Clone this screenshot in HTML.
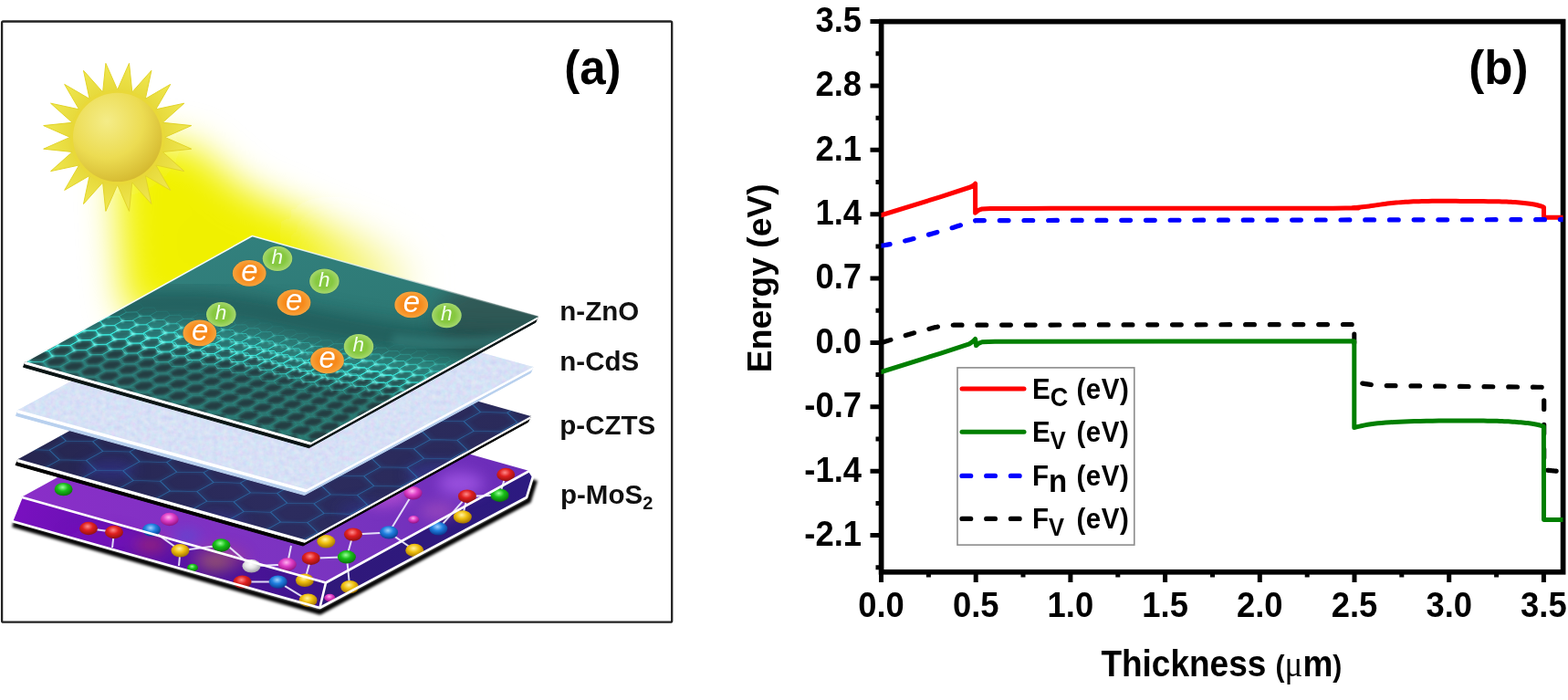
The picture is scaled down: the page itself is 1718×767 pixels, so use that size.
<!DOCTYPE html>
<html><head><meta charset="utf-8"><title>Figure</title><style>
html,body{margin:0;padding:0;background:#fff;}
svg{display:block;}
text{font-family:"Liberation Sans", Arial, sans-serif;font-weight:bold;fill:#000;}
.tk{font-size:36.4px;}
.ax{font-size:37px;}
.ax2{font-size:37.2px;}
.lab{font-size:51px;}
.lg{font-size:29.5px;}
.sub{font-size:26.5px;font-weight:bold;}
.ly2{font-size:20px;font-weight:bold;}
.pr{font-size:30px;}
.mu2{font-family:"Liberation Serif",serif;font-weight:normal;}
.ly{font-size:29.5px;fill:#111;}
.mu{font-weight:normal;}
.ee{font-size:33px;font-weight:normal;font-style:italic;fill:#fff;text-anchor:middle;}
.hh{font-size:22.5px;font-weight:normal;font-style:italic;fill:#f4fff0;text-anchor:middle;}
</style></head>
<body><svg width="1718" height="767" viewBox="0 0 1718 767">
<defs>
<filter id="blurBeam" x="-50%" y="-50%" width="200%" height="200%"><feGaussianBlur stdDeviation="20"/></filter>
<filter id="blur1" x="-5%" y="-5%" width="110%" height="110%"><feGaussianBlur stdDeviation="0.9"/></filter>
<filter id="blur15" x="-5%" y="-5%" width="110%" height="110%"><feGaussianBlur stdDeviation="1.8"/></filter>
<filter id="blur2"><feGaussianBlur stdDeviation="2"/></filter>
<filter id="blur4" x="-20%" y="-50%" width="140%" height="200%"><feGaussianBlur stdDeviation="4"/></filter>
<filter id="blur8" x="-50%" y="-50%" width="200%" height="200%"><feGaussianBlur stdDeviation="8"/></filter>
<filter id="blur10" x="-50%" y="-50%" width="200%" height="200%"><feGaussianBlur stdDeviation="10"/></filter>
<filter id="noise" x="0" y="0" width="100%" height="100%">
  <feTurbulence type="fractalNoise" baseFrequency="0.18" numOctaves="3" seed="3" result="n"/>
  <feColorMatrix in="n" type="matrix" values="0.55 0 0 0 0.45  0 0.5 0 0 0.52  0 0 0.2 0 0.82  0 0 0 0 1" result="c"/>
  <feComposite in="c" in2="SourceGraphic" operator="in"/>
</filter>
<radialGradient id="beamG" gradientUnits="userSpaceOnUse" cx="225" cy="265" r="230">
  <stop offset="0" stop-color="#f0f000"/><stop offset="0.42" stop-color="#f2f200"/><stop offset="0.75" stop-color="#f6f480"/><stop offset="1" stop-color="#fbfbd0"/>
</radialGradient>
<linearGradient id="edgeG" gradientUnits="userSpaceOnUse" x1="275" y1="256" x2="590" y2="347">
  <stop offset="0" stop-color="#f4fbfa"/><stop offset="0.5" stop-color="#e0f0ee" stop-opacity="0.8"/><stop offset="1" stop-color="#3a5a58" stop-opacity="0.6"/>
</linearGradient>
<radialGradient id="sunG" cx="0.38" cy="0.32" r="0.75">
  <stop offset="0" stop-color="#f4ec88"/><stop offset="0.55" stop-color="#ecdc52"/><stop offset="1" stop-color="#d2b52c"/>
</radialGradient>
<radialGradient id="rayG" cx="0.5" cy="0.5" r="0.5">
  <stop offset="0.6" stop-color="#e6d83a"/><stop offset="1" stop-color="#f0e850"/>
</radialGradient>
<linearGradient id="znoG" gradientUnits="userSpaceOnUse" x1="275" y1="256" x2="341" y2="484">
  <stop offset="0" stop-color="#32807d"/><stop offset="0.5" stop-color="#2e7a76"/><stop offset="1" stop-color="#2c7a72"/>
</linearGradient>
<linearGradient id="hexFill" x1="0" y1="0" x2="0" y2="1"><stop offset="0" stop-color="#154848"/><stop offset="1" stop-color="#123c3c"/></linearGradient>
<linearGradient id="znoMaskG" x1="0" y1="0" x2="0" y2="1">
  <stop offset="0.35" stop-color="#000"/><stop offset="0.6" stop-color="#fff" stop-opacity="0.9"/><stop offset="1" stop-color="#fff"/>
</linearGradient>
<mask id="znoMask" maskUnits="userSpaceOnUse" x="-10" y="-10" width="120" height="120"><rect x="-10" y="-10" width="120" height="120" fill="url(#znoMaskG)"/></mask>
<linearGradient id="cztsG" gradientUnits="userSpaceOnUse" x1="20" y1="503" x2="581" y2="456">
  <stop offset="0" stop-color="#262650"/><stop offset="0.5" stop-color="#2c2c5e"/><stop offset="1" stop-color="#2a2a5a"/>
</linearGradient>
<linearGradient id="moTop" gradientUnits="userSpaceOnUse" x1="23" y1="545" x2="580" y2="516">
  <stop offset="0" stop-color="#8a2ec8"/><stop offset="0.6" stop-color="#7a34c0"/><stop offset="1" stop-color="#6a2cb8"/>
</linearGradient>
<linearGradient id="moFL" gradientUnits="userSpaceOnUse" x1="13" y1="560" x2="357" y2="650">
  <stop offset="0" stop-color="#7a10c0"/><stop offset="0.5" stop-color="#5a12a8"/><stop offset="1" stop-color="#3a1488"/>
</linearGradient>
<linearGradient id="moFR" gradientUnits="userSpaceOnUse" x1="357" y1="650" x2="580" y2="530">
  <stop offset="0" stop-color="#30187a"/><stop offset="1" stop-color="#2c1a80"/>
</linearGradient>
<clipPath id="plotClip"><rect x="965.5" y="23.6" width="747" height="603.2"/></clipPath>
<clipPath id="moClip"><polygon points="23.5,544.8 246.5,422.3 580.0,516.0 584.0,522.0 577.0,545.0 350.4,666.0 13.0,571.0"/></clipPath>
<clipPath id="cztsClip"><polygon points="20.0,503.0 266.6,367.5 581.6,456.0 335.0,591.5"/></clipPath>
<clipPath id="znoClip"><polygon points="28.0,396.0 276.4,258.5 589.4,347.0 341.0,484.5"/></clipPath>
<radialGradient id="eG" cx="0.5" cy="0.5" r="0.5"><stop offset="0.55" stop-color="#f7891a"/><stop offset="1" stop-color="#f6a43e"/></radialGradient>
<radialGradient id="hG" cx="0.5" cy="0.5" r="0.5"><stop offset="0.55" stop-color="#86c840"/><stop offset="1" stop-color="#a6d870"/></radialGradient>
<radialGradient id="ball_r" cx="0.45" cy="0.35" r="0.65"><stop offset="0" stop-color="#ff8a8a"/><stop offset="0.45" stop-color="#e02020"/><stop offset="1" stop-color="#901010"/></radialGradient>
<radialGradient id="ball_g" cx="0.45" cy="0.35" r="0.65"><stop offset="0" stop-color="#9aff9a"/><stop offset="0.45" stop-color="#18c018"/><stop offset="1" stop-color="#0a700a"/></radialGradient>
<radialGradient id="ball_b" cx="0.45" cy="0.35" r="0.65"><stop offset="0" stop-color="#a0d0ff"/><stop offset="0.45" stop-color="#2080e0"/><stop offset="1" stop-color="#0a3a90"/></radialGradient>
<radialGradient id="ball_y" cx="0.45" cy="0.35" r="0.65"><stop offset="0" stop-color="#fff2a0"/><stop offset="0.45" stop-color="#f0c010"/><stop offset="1" stop-color="#a07000"/></radialGradient>
<radialGradient id="ball_m" cx="0.45" cy="0.35" r="0.65"><stop offset="0" stop-color="#ffb0f0"/><stop offset="0.45" stop-color="#e040c8"/><stop offset="1" stop-color="#901080"/></radialGradient>
<radialGradient id="ball_w" cx="0.45" cy="0.35" r="0.65"><stop offset="0" stop-color="#ffffff"/><stop offset="0.45" stop-color="#e8e8e8"/><stop offset="1" stop-color="#a0a0a8"/></radialGradient>
</defs>
<rect width="1718" height="767" fill="#fff"/>
<rect x="2.1" y="23.5" width="734.1" height="658.2" rx="1.5" fill="#fff" stroke="#222" stroke-width="2.3"/>
<polygon points="132,150 212,160 268,208 340,240 420,272 458,302 432,338 240,348 138,345 132,282 128,210" fill="url(#beamG)" filter="url(#blurBeam)"/>
<polygon points="141.5,69.4 144.8,100.9 165.9,77.3 159.3,108.3 186.7,92.4 170.8,119.8 201.8,113.2 178.2,134.3 209.7,137.6 180.7,150.4 209.7,163.2 178.2,166.5 201.8,187.6 170.8,181.0 186.7,208.4 159.3,192.5 165.9,223.5 144.8,199.9 141.5,231.4 128.7,202.4 115.9,231.4 112.6,199.9 91.5,223.5 98.1,192.5 70.7,208.4 86.6,181.0 55.6,187.6 79.2,166.5 47.7,163.2 76.7,150.4 47.7,137.6 79.2,134.3 55.6,113.2 86.6,119.8 70.7,92.4 98.1,108.3 91.5,77.3 112.6,100.9 115.9,69.4 128.7,98.4" fill="url(#rayG)" stroke="#e2d42a" stroke-width="1" stroke-linejoin="round"/>
<circle cx="128.7" cy="150.4" r="52" fill="#e9d838" opacity="0.9"/>
<circle cx="128.7" cy="150.4" r="48.7" fill="url(#sunG)"/>
<polyline points="14.0,574.5 350.4,670.5 579.0,548.5 586.0,526.0" fill="none" stroke="#000" stroke-width="6" stroke-linejoin="round" filter="url(#blur15)"/>
<polygon points="23.5,544.8 246.5,422.3 580.0,516.0 357.0,638.5" fill="url(#moTop)"/>
<polygon points="23.5,544.8 357.0,638.5 350.4,666.0 13.0,571.0" fill="url(#moFL)"/>
<polygon points="357.0,638.5 580.0,516.0 584.0,522.0 577.0,545.0 350.4,666.0" fill="url(#moFR)"/>
<g clip-path="url(#moClip)" filter="url(#blur8)" opacity="0.55"><ellipse cx="420" cy="540" rx="30" ry="14" fill="#e060e0"/><ellipse cx="505" cy="530" rx="25" ry="12" fill="#c070ff"/><ellipse cx="240" cy="612" rx="30" ry="12" fill="#b04080"/><ellipse cx="110" cy="590" rx="40" ry="10" fill="#8010c0"/><ellipse cx="165" cy="597" rx="18" ry="8" fill="#d03050"/><ellipse cx="236" cy="617" rx="16" ry="8" fill="#d09030"/><ellipse cx="205" cy="588" rx="14" ry="7" fill="#4060e0"/><ellipse cx="480" cy="560" rx="20" ry="8" fill="#c060c0"/></g>
<g stroke="#f0f0ff" stroke-width="2" opacity="0.9"><line x1="265.5" y1="637.6" x2="304.7" y2="637.6"/><line x1="304.7" y1="637.6" x2="337.6" y2="657.7"/><line x1="333.9" y1="635.8" x2="340.7" y2="611.7"/><line x1="340.7" y1="611.7" x2="379.9" y2="610.3"/><line x1="379.9" y1="610.3" x2="386.9" y2="585.6"/><line x1="386.9" y1="585.6" x2="426.1" y2="583.4"/><line x1="314.8" y1="618.5" x2="275.5" y2="620.3"/><line x1="314.8" y1="618.5" x2="319" y2="598"/><line x1="275.5" y1="620.3" x2="250" y2="598.4"/><line x1="426.1" y1="583.4" x2="454.2" y2="603"/><line x1="426.1" y1="583.4" x2="452.5" y2="540.3"/><line x1="480.3" y1="579.3" x2="511.9" y2="543.7"/><line x1="511.9" y1="543.7" x2="547.5" y2="542.7"/><line x1="547.5" y1="542.7" x2="554.2" y2="520"/><line x1="125" y1="583" x2="97" y2="579"/><line x1="125" y1="583" x2="123" y2="600"/><line x1="166" y1="580.6" x2="197.5" y2="603.3"/><line x1="197.5" y1="603.3" x2="242.4" y2="597.5"/><line x1="197.5" y1="603.3" x2="196" y2="620"/><line x1="379.9" y1="610.3" x2="383.2" y2="643.1"/><line x1="506.8" y1="566.4" x2="511.9" y2="543.7"/></g>
<ellipse cx="69.6" cy="536.1" rx="10" ry="7.2" fill="url(#ball_g)"/>
<ellipse cx="97" cy="579" rx="10" ry="7.2" fill="url(#ball_r)"/>
<ellipse cx="125" cy="583" rx="10" ry="7.2" fill="url(#ball_r)"/>
<ellipse cx="166" cy="580.6" rx="10" ry="7.2" fill="url(#ball_b)"/>
<ellipse cx="185.7" cy="569" rx="10" ry="7.2" fill="url(#ball_m)"/>
<ellipse cx="197.5" cy="603.3" rx="10" ry="7.2" fill="url(#ball_y)"/>
<ellipse cx="242.4" cy="597.5" rx="10" ry="7.2" fill="url(#ball_g)"/>
<ellipse cx="211" cy="622" rx="6" ry="4.3" fill="url(#ball_g)"/>
<ellipse cx="275.5" cy="620.3" rx="10" ry="7.2" fill="url(#ball_w)"/>
<ellipse cx="314.8" cy="618.5" rx="10" ry="7.2" fill="url(#ball_m)"/>
<ellipse cx="340.7" cy="611.7" rx="10" ry="7.2" fill="url(#ball_r)"/>
<ellipse cx="379.9" cy="610.3" rx="10" ry="7.2" fill="url(#ball_g)"/>
<ellipse cx="386.9" cy="585.6" rx="10" ry="7.2" fill="url(#ball_r)"/>
<ellipse cx="357.3" cy="593.3" rx="10" ry="7.2" fill="url(#ball_y)"/>
<ellipse cx="265.5" cy="637.6" rx="10" ry="7.2" fill="url(#ball_r)"/>
<ellipse cx="304.7" cy="637.6" rx="10" ry="7.2" fill="url(#ball_b)"/>
<ellipse cx="333.9" cy="635.8" rx="10" ry="7.2" fill="url(#ball_y)"/>
<ellipse cx="337.6" cy="657.7" rx="10" ry="7.2" fill="url(#ball_y)"/>
<ellipse cx="361.3" cy="655" rx="6" ry="4.3" fill="url(#ball_m)"/>
<ellipse cx="383.2" cy="643.1" rx="10" ry="7.2" fill="url(#ball_y)"/>
<ellipse cx="426.1" cy="583.4" rx="10" ry="7.2" fill="url(#ball_b)"/>
<ellipse cx="554.2" cy="520" rx="10" ry="7.2" fill="url(#ball_r)"/>
<ellipse cx="511.9" cy="543.7" rx="10" ry="7.2" fill="url(#ball_r)"/>
<ellipse cx="547.5" cy="542.7" rx="10" ry="7.2" fill="url(#ball_g)"/>
<ellipse cx="506.8" cy="566.4" rx="10" ry="7.2" fill="url(#ball_y)"/>
<ellipse cx="480.3" cy="579.3" rx="10" ry="7.2" fill="url(#ball_b)"/>
<ellipse cx="452.5" cy="540.3" rx="10" ry="7.2" fill="url(#ball_m)"/>
<ellipse cx="453.2" cy="569.2" rx="6" ry="4.3" fill="url(#ball_m)"/>
<ellipse cx="454.2" cy="603" rx="10" ry="7.2" fill="url(#ball_y)"/>
<polyline points="23.5,544.8 357.0,638.5 580.0,516.0" fill="none" stroke="#fff" stroke-width="2.6" stroke-linejoin="round"/>
<polyline points="13.0,571.0 350.4,666.0 577.0,545.0 584.0,522.0 580.0,516.0" fill="none" stroke="#fff" stroke-width="2.6" stroke-linejoin="round"/>
<line x1="23.5" y1="544.8" x2="13" y2="571" stroke="#fff" stroke-width="2.6"/>
<line x1="357" y1="638.5" x2="350.4" y2="666" stroke="#fff" stroke-width="2.6"/>
<polygon points="20.0,503.0 335.0,591.5 581.6,456.0 578.6,462.5 332.0,598.0 17.0,509.5" fill="#000" stroke="#000" stroke-width="1" stroke-linejoin="round"/>
<polygon points="20.0,503.0 335.0,591.5 581.6,456.0 580.4,458.8 333.8,594.3 18.8,505.8" fill="#fff" stroke="#fff" stroke-width="1" stroke-linejoin="round"/>
<polygon points="20.0,503.0 266.6,367.5 581.6,456.0 335.0,591.5" fill="url(#cztsG)"/>
<g clip-path="url(#cztsClip)"><g filter="url(#blur8)" opacity="0.55"><ellipse cx="230" cy="575" rx="40" ry="12" fill="#3a3aa0"/><ellipse cx="120" cy="515" rx="30" ry="10" fill="#34349a"/><ellipse cx="480" cy="520" rx="35" ry="12" fill="#3a3aa8"/><ellipse cx="400" cy="560" rx="30" ry="10" fill="#303090"/></g><g transform="matrix(3.1500,0.8850,-2.4660,1.3550,266.60,367.50)"><path d="M3.4,1.7 L-3.0,5.4 L-9.4,1.7 L-9.4,-5.7 L-3.0,-9.4 L3.4,-5.7ZM16.2,1.7 L9.8,5.4 L3.4,1.7 L3.4,-5.7 L9.8,-9.4 L16.2,-5.7ZM29.0,1.7 L22.6,5.4 L16.2,1.7 L16.2,-5.7 L22.6,-9.4 L29.0,-5.7ZM41.9,1.7 L35.5,5.4 L29.0,1.7 L29.0,-5.7 L35.5,-9.4 L41.9,-5.7ZM54.7,1.7 L48.3,5.4 L41.9,1.7 L41.9,-5.7 L48.3,-9.4 L54.7,-5.7ZM67.5,1.7 L61.1,5.4 L54.7,1.7 L54.7,-5.7 L61.1,-9.4 L67.5,-5.7ZM80.3,1.7 L73.9,5.4 L67.5,1.7 L67.5,-5.7 L73.9,-9.4 L80.3,-5.7ZM93.1,1.7 L86.7,5.4 L80.3,1.7 L80.3,-5.7 L86.7,-9.4 L93.1,-5.7ZM105.9,1.7 L99.5,5.4 L93.1,1.7 L93.1,-5.7 L99.5,-9.4 L105.9,-5.7ZM9.8,12.8 L3.4,16.5 L-3.0,12.8 L-3.0,5.4 L3.4,1.7 L9.8,5.4ZM22.6,12.8 L16.2,16.5 L9.8,12.8 L9.8,5.4 L16.2,1.7 L22.6,5.4ZM35.5,12.8 L29.0,16.5 L22.6,12.8 L22.6,5.4 L29.0,1.7 L35.5,5.4ZM48.3,12.8 L41.9,16.5 L35.5,12.8 L35.5,5.4 L41.9,1.7 L48.3,5.4ZM61.1,12.8 L54.7,16.5 L48.3,12.8 L48.3,5.4 L54.7,1.7 L61.1,5.4ZM73.9,12.8 L67.5,16.5 L61.1,12.8 L61.1,5.4 L67.5,1.7 L73.9,5.4ZM86.7,12.8 L80.3,16.5 L73.9,12.8 L73.9,5.4 L80.3,1.7 L86.7,5.4ZM99.5,12.8 L93.1,16.5 L86.7,12.8 L86.7,5.4 L93.1,1.7 L99.5,5.4ZM112.4,12.8 L105.9,16.5 L99.5,12.8 L99.5,5.4 L105.9,1.7 L112.4,5.4ZM3.4,23.9 L-3.0,27.6 L-9.4,23.9 L-9.4,16.5 L-3.0,12.8 L3.4,16.5ZM16.2,23.9 L9.8,27.6 L3.4,23.9 L3.4,16.5 L9.8,12.8 L16.2,16.5ZM29.0,23.9 L22.6,27.6 L16.2,23.9 L16.2,16.5 L22.6,12.8 L29.0,16.5ZM41.9,23.9 L35.5,27.6 L29.0,23.9 L29.0,16.5 L35.5,12.8 L41.9,16.5ZM54.7,23.9 L48.3,27.6 L41.9,23.9 L41.9,16.5 L48.3,12.8 L54.7,16.5ZM67.5,23.9 L61.1,27.6 L54.7,23.9 L54.7,16.5 L61.1,12.8 L67.5,16.5ZM80.3,23.9 L73.9,27.6 L67.5,23.9 L67.5,16.5 L73.9,12.8 L80.3,16.5ZM93.1,23.9 L86.7,27.6 L80.3,23.9 L80.3,16.5 L86.7,12.8 L93.1,16.5ZM105.9,23.9 L99.5,27.6 L93.1,23.9 L93.1,16.5 L99.5,12.8 L105.9,16.5ZM9.8,35.0 L3.4,38.7 L-3.0,35.0 L-3.0,27.6 L3.4,23.9 L9.8,27.6ZM22.6,35.0 L16.2,38.7 L9.8,35.0 L9.8,27.6 L16.2,23.9 L22.6,27.6ZM35.5,35.0 L29.0,38.7 L22.6,35.0 L22.6,27.6 L29.0,23.9 L35.5,27.6ZM48.3,35.0 L41.9,38.7 L35.5,35.0 L35.5,27.6 L41.9,23.9 L48.3,27.6ZM61.1,35.0 L54.7,38.7 L48.3,35.0 L48.3,27.6 L54.7,23.9 L61.1,27.6ZM73.9,35.0 L67.5,38.7 L61.1,35.0 L61.1,27.6 L67.5,23.9 L73.9,27.6ZM86.7,35.0 L80.3,38.7 L73.9,35.0 L73.9,27.6 L80.3,23.9 L86.7,27.6ZM99.5,35.0 L93.1,38.7 L86.7,35.0 L86.7,27.6 L93.1,23.9 L99.5,27.6ZM112.4,35.0 L105.9,38.7 L99.5,35.0 L99.5,27.6 L105.9,23.9 L112.4,27.6ZM3.4,46.1 L-3.0,49.8 L-9.4,46.1 L-9.4,38.7 L-3.0,35.0 L3.4,38.7ZM16.2,46.1 L9.8,49.8 L3.4,46.1 L3.4,38.7 L9.8,35.0 L16.2,38.7ZM29.0,46.1 L22.6,49.8 L16.2,46.1 L16.2,38.7 L22.6,35.0 L29.0,38.7ZM41.9,46.1 L35.5,49.8 L29.0,46.1 L29.0,38.7 L35.5,35.0 L41.9,38.7ZM54.7,46.1 L48.3,49.8 L41.9,46.1 L41.9,38.7 L48.3,35.0 L54.7,38.7ZM67.5,46.1 L61.1,49.8 L54.7,46.1 L54.7,38.7 L61.1,35.0 L67.5,38.7ZM80.3,46.1 L73.9,49.8 L67.5,46.1 L67.5,38.7 L73.9,35.0 L80.3,38.7ZM93.1,46.1 L86.7,49.8 L80.3,46.1 L80.3,38.7 L86.7,35.0 L93.1,38.7ZM105.9,46.1 L99.5,49.8 L93.1,46.1 L93.1,38.7 L99.5,35.0 L105.9,38.7ZM9.8,57.2 L3.4,60.9 L-3.0,57.2 L-3.0,49.8 L3.4,46.1 L9.8,49.8ZM22.6,57.2 L16.2,60.9 L9.8,57.2 L9.8,49.8 L16.2,46.1 L22.6,49.8ZM35.5,57.2 L29.0,60.9 L22.6,57.2 L22.6,49.8 L29.0,46.1 L35.5,49.8ZM48.3,57.2 L41.9,60.9 L35.5,57.2 L35.5,49.8 L41.9,46.1 L48.3,49.8ZM61.1,57.2 L54.7,60.9 L48.3,57.2 L48.3,49.8 L54.7,46.1 L61.1,49.8ZM73.9,57.2 L67.5,60.9 L61.1,57.2 L61.1,49.8 L67.5,46.1 L73.9,49.8ZM86.7,57.2 L80.3,60.9 L73.9,57.2 L73.9,49.8 L80.3,46.1 L86.7,49.8ZM99.5,57.2 L93.1,60.9 L86.7,57.2 L86.7,49.8 L93.1,46.1 L99.5,49.8ZM112.4,57.2 L105.9,60.9 L99.5,57.2 L99.5,49.8 L105.9,46.1 L112.4,49.8ZM3.4,68.3 L-3.0,72.0 L-9.4,68.3 L-9.4,60.9 L-3.0,57.2 L3.4,60.9ZM16.2,68.3 L9.8,72.0 L3.4,68.3 L3.4,60.9 L9.8,57.2 L16.2,60.9ZM29.0,68.3 L22.6,72.0 L16.2,68.3 L16.2,60.9 L22.6,57.2 L29.0,60.9ZM41.9,68.3 L35.5,72.0 L29.0,68.3 L29.0,60.9 L35.5,57.2 L41.9,60.9ZM54.7,68.3 L48.3,72.0 L41.9,68.3 L41.9,60.9 L48.3,57.2 L54.7,60.9ZM67.5,68.3 L61.1,72.0 L54.7,68.3 L54.7,60.9 L61.1,57.2 L67.5,60.9ZM80.3,68.3 L73.9,72.0 L67.5,68.3 L67.5,60.9 L73.9,57.2 L80.3,60.9ZM93.1,68.3 L86.7,72.0 L80.3,68.3 L80.3,60.9 L86.7,57.2 L93.1,60.9ZM105.9,68.3 L99.5,72.0 L93.1,68.3 L93.1,60.9 L99.5,57.2 L105.9,60.9ZM9.8,79.4 L3.4,83.1 L-3.0,79.4 L-3.0,72.0 L3.4,68.3 L9.8,72.0ZM22.6,79.4 L16.2,83.1 L9.8,79.4 L9.8,72.0 L16.2,68.3 L22.6,72.0ZM35.5,79.4 L29.0,83.1 L22.6,79.4 L22.6,72.0 L29.0,68.3 L35.5,72.0ZM48.3,79.4 L41.9,83.1 L35.5,79.4 L35.5,72.0 L41.9,68.3 L48.3,72.0ZM61.1,79.4 L54.7,83.1 L48.3,79.4 L48.3,72.0 L54.7,68.3 L61.1,72.0ZM73.9,79.4 L67.5,83.1 L61.1,79.4 L61.1,72.0 L67.5,68.3 L73.9,72.0ZM86.7,79.4 L80.3,83.1 L73.9,79.4 L73.9,72.0 L80.3,68.3 L86.7,72.0ZM99.5,79.4 L93.1,83.1 L86.7,79.4 L86.7,72.0 L93.1,68.3 L99.5,72.0ZM112.4,79.4 L105.9,83.1 L99.5,79.4 L99.5,72.0 L105.9,68.3 L112.4,72.0ZM3.4,90.5 L-3.0,94.2 L-9.4,90.5 L-9.4,83.1 L-3.0,79.4 L3.4,83.1ZM16.2,90.5 L9.8,94.2 L3.4,90.5 L3.4,83.1 L9.8,79.4 L16.2,83.1ZM29.0,90.5 L22.6,94.2 L16.2,90.5 L16.2,83.1 L22.6,79.4 L29.0,83.1ZM41.9,90.5 L35.5,94.2 L29.0,90.5 L29.0,83.1 L35.5,79.4 L41.9,83.1ZM54.7,90.5 L48.3,94.2 L41.9,90.5 L41.9,83.1 L48.3,79.4 L54.7,83.1ZM67.5,90.5 L61.1,94.2 L54.7,90.5 L54.7,83.1 L61.1,79.4 L67.5,83.1ZM80.3,90.5 L73.9,94.2 L67.5,90.5 L67.5,83.1 L73.9,79.4 L80.3,83.1ZM93.1,90.5 L86.7,94.2 L80.3,90.5 L80.3,83.1 L86.7,79.4 L93.1,83.1ZM105.9,90.5 L99.5,94.2 L93.1,90.5 L93.1,83.1 L99.5,79.4 L105.9,83.1ZM9.8,101.6 L3.4,105.3 L-3.0,101.6 L-3.0,94.2 L3.4,90.5 L9.8,94.2ZM22.6,101.6 L16.2,105.3 L9.8,101.6 L9.8,94.2 L16.2,90.5 L22.6,94.2ZM35.5,101.6 L29.0,105.3 L22.6,101.6 L22.6,94.2 L29.0,90.5 L35.5,94.2ZM48.3,101.6 L41.9,105.3 L35.5,101.6 L35.5,94.2 L41.9,90.5 L48.3,94.2ZM61.1,101.6 L54.7,105.3 L48.3,101.6 L48.3,94.2 L54.7,90.5 L61.1,94.2ZM73.9,101.6 L67.5,105.3 L61.1,101.6 L61.1,94.2 L67.5,90.5 L73.9,94.2ZM86.7,101.6 L80.3,105.3 L73.9,101.6 L73.9,94.2 L80.3,90.5 L86.7,94.2ZM99.5,101.6 L93.1,105.3 L86.7,101.6 L86.7,94.2 L93.1,90.5 L99.5,94.2ZM112.4,101.6 L105.9,105.3 L99.5,101.6 L99.5,94.2 L105.9,90.5 L112.4,94.2ZM3.4,112.7 L-3.0,116.4 L-9.4,112.7 L-9.4,105.3 L-3.0,101.6 L3.4,105.3ZM16.2,112.7 L9.8,116.4 L3.4,112.7 L3.4,105.3 L9.8,101.6 L16.2,105.3ZM29.0,112.7 L22.6,116.4 L16.2,112.7 L16.2,105.3 L22.6,101.6 L29.0,105.3ZM41.9,112.7 L35.5,116.4 L29.0,112.7 L29.0,105.3 L35.5,101.6 L41.9,105.3ZM54.7,112.7 L48.3,116.4 L41.9,112.7 L41.9,105.3 L48.3,101.6 L54.7,105.3ZM67.5,112.7 L61.1,116.4 L54.7,112.7 L54.7,105.3 L61.1,101.6 L67.5,105.3ZM80.3,112.7 L73.9,116.4 L67.5,112.7 L67.5,105.3 L73.9,101.6 L80.3,105.3ZM93.1,112.7 L86.7,116.4 L80.3,112.7 L80.3,105.3 L86.7,101.6 L93.1,105.3ZM105.9,112.7 L99.5,116.4 L93.1,112.7 L93.1,105.3 L99.5,101.6 L105.9,105.3Z" fill="none" stroke="#2a90d0" stroke-width="1.4" opacity="0.18" filter="url(#blur1)"/><path d="M3.4,1.7 L-3.0,5.4 L-9.4,1.7 L-9.4,-5.7 L-3.0,-9.4 L3.4,-5.7ZM16.2,1.7 L9.8,5.4 L3.4,1.7 L3.4,-5.7 L9.8,-9.4 L16.2,-5.7ZM29.0,1.7 L22.6,5.4 L16.2,1.7 L16.2,-5.7 L22.6,-9.4 L29.0,-5.7ZM41.9,1.7 L35.5,5.4 L29.0,1.7 L29.0,-5.7 L35.5,-9.4 L41.9,-5.7ZM54.7,1.7 L48.3,5.4 L41.9,1.7 L41.9,-5.7 L48.3,-9.4 L54.7,-5.7ZM67.5,1.7 L61.1,5.4 L54.7,1.7 L54.7,-5.7 L61.1,-9.4 L67.5,-5.7ZM80.3,1.7 L73.9,5.4 L67.5,1.7 L67.5,-5.7 L73.9,-9.4 L80.3,-5.7ZM93.1,1.7 L86.7,5.4 L80.3,1.7 L80.3,-5.7 L86.7,-9.4 L93.1,-5.7ZM105.9,1.7 L99.5,5.4 L93.1,1.7 L93.1,-5.7 L99.5,-9.4 L105.9,-5.7ZM9.8,12.8 L3.4,16.5 L-3.0,12.8 L-3.0,5.4 L3.4,1.7 L9.8,5.4ZM22.6,12.8 L16.2,16.5 L9.8,12.8 L9.8,5.4 L16.2,1.7 L22.6,5.4ZM35.5,12.8 L29.0,16.5 L22.6,12.8 L22.6,5.4 L29.0,1.7 L35.5,5.4ZM48.3,12.8 L41.9,16.5 L35.5,12.8 L35.5,5.4 L41.9,1.7 L48.3,5.4ZM61.1,12.8 L54.7,16.5 L48.3,12.8 L48.3,5.4 L54.7,1.7 L61.1,5.4ZM73.9,12.8 L67.5,16.5 L61.1,12.8 L61.1,5.4 L67.5,1.7 L73.9,5.4ZM86.7,12.8 L80.3,16.5 L73.9,12.8 L73.9,5.4 L80.3,1.7 L86.7,5.4ZM99.5,12.8 L93.1,16.5 L86.7,12.8 L86.7,5.4 L93.1,1.7 L99.5,5.4ZM112.4,12.8 L105.9,16.5 L99.5,12.8 L99.5,5.4 L105.9,1.7 L112.4,5.4ZM3.4,23.9 L-3.0,27.6 L-9.4,23.9 L-9.4,16.5 L-3.0,12.8 L3.4,16.5ZM16.2,23.9 L9.8,27.6 L3.4,23.9 L3.4,16.5 L9.8,12.8 L16.2,16.5ZM29.0,23.9 L22.6,27.6 L16.2,23.9 L16.2,16.5 L22.6,12.8 L29.0,16.5ZM41.9,23.9 L35.5,27.6 L29.0,23.9 L29.0,16.5 L35.5,12.8 L41.9,16.5ZM54.7,23.9 L48.3,27.6 L41.9,23.9 L41.9,16.5 L48.3,12.8 L54.7,16.5ZM67.5,23.9 L61.1,27.6 L54.7,23.9 L54.7,16.5 L61.1,12.8 L67.5,16.5ZM80.3,23.9 L73.9,27.6 L67.5,23.9 L67.5,16.5 L73.9,12.8 L80.3,16.5ZM93.1,23.9 L86.7,27.6 L80.3,23.9 L80.3,16.5 L86.7,12.8 L93.1,16.5ZM105.9,23.9 L99.5,27.6 L93.1,23.9 L93.1,16.5 L99.5,12.8 L105.9,16.5ZM9.8,35.0 L3.4,38.7 L-3.0,35.0 L-3.0,27.6 L3.4,23.9 L9.8,27.6ZM22.6,35.0 L16.2,38.7 L9.8,35.0 L9.8,27.6 L16.2,23.9 L22.6,27.6ZM35.5,35.0 L29.0,38.7 L22.6,35.0 L22.6,27.6 L29.0,23.9 L35.5,27.6ZM48.3,35.0 L41.9,38.7 L35.5,35.0 L35.5,27.6 L41.9,23.9 L48.3,27.6ZM61.1,35.0 L54.7,38.7 L48.3,35.0 L48.3,27.6 L54.7,23.9 L61.1,27.6ZM73.9,35.0 L67.5,38.7 L61.1,35.0 L61.1,27.6 L67.5,23.9 L73.9,27.6ZM86.7,35.0 L80.3,38.7 L73.9,35.0 L73.9,27.6 L80.3,23.9 L86.7,27.6ZM99.5,35.0 L93.1,38.7 L86.7,35.0 L86.7,27.6 L93.1,23.9 L99.5,27.6ZM112.4,35.0 L105.9,38.7 L99.5,35.0 L99.5,27.6 L105.9,23.9 L112.4,27.6ZM3.4,46.1 L-3.0,49.8 L-9.4,46.1 L-9.4,38.7 L-3.0,35.0 L3.4,38.7ZM16.2,46.1 L9.8,49.8 L3.4,46.1 L3.4,38.7 L9.8,35.0 L16.2,38.7ZM29.0,46.1 L22.6,49.8 L16.2,46.1 L16.2,38.7 L22.6,35.0 L29.0,38.7ZM41.9,46.1 L35.5,49.8 L29.0,46.1 L29.0,38.7 L35.5,35.0 L41.9,38.7ZM54.7,46.1 L48.3,49.8 L41.9,46.1 L41.9,38.7 L48.3,35.0 L54.7,38.7ZM67.5,46.1 L61.1,49.8 L54.7,46.1 L54.7,38.7 L61.1,35.0 L67.5,38.7ZM80.3,46.1 L73.9,49.8 L67.5,46.1 L67.5,38.7 L73.9,35.0 L80.3,38.7ZM93.1,46.1 L86.7,49.8 L80.3,46.1 L80.3,38.7 L86.7,35.0 L93.1,38.7ZM105.9,46.1 L99.5,49.8 L93.1,46.1 L93.1,38.7 L99.5,35.0 L105.9,38.7ZM9.8,57.2 L3.4,60.9 L-3.0,57.2 L-3.0,49.8 L3.4,46.1 L9.8,49.8ZM22.6,57.2 L16.2,60.9 L9.8,57.2 L9.8,49.8 L16.2,46.1 L22.6,49.8ZM35.5,57.2 L29.0,60.9 L22.6,57.2 L22.6,49.8 L29.0,46.1 L35.5,49.8ZM48.3,57.2 L41.9,60.9 L35.5,57.2 L35.5,49.8 L41.9,46.1 L48.3,49.8ZM61.1,57.2 L54.7,60.9 L48.3,57.2 L48.3,49.8 L54.7,46.1 L61.1,49.8ZM73.9,57.2 L67.5,60.9 L61.1,57.2 L61.1,49.8 L67.5,46.1 L73.9,49.8ZM86.7,57.2 L80.3,60.9 L73.9,57.2 L73.9,49.8 L80.3,46.1 L86.7,49.8ZM99.5,57.2 L93.1,60.9 L86.7,57.2 L86.7,49.8 L93.1,46.1 L99.5,49.8ZM112.4,57.2 L105.9,60.9 L99.5,57.2 L99.5,49.8 L105.9,46.1 L112.4,49.8ZM3.4,68.3 L-3.0,72.0 L-9.4,68.3 L-9.4,60.9 L-3.0,57.2 L3.4,60.9ZM16.2,68.3 L9.8,72.0 L3.4,68.3 L3.4,60.9 L9.8,57.2 L16.2,60.9ZM29.0,68.3 L22.6,72.0 L16.2,68.3 L16.2,60.9 L22.6,57.2 L29.0,60.9ZM41.9,68.3 L35.5,72.0 L29.0,68.3 L29.0,60.9 L35.5,57.2 L41.9,60.9ZM54.7,68.3 L48.3,72.0 L41.9,68.3 L41.9,60.9 L48.3,57.2 L54.7,60.9ZM67.5,68.3 L61.1,72.0 L54.7,68.3 L54.7,60.9 L61.1,57.2 L67.5,60.9ZM80.3,68.3 L73.9,72.0 L67.5,68.3 L67.5,60.9 L73.9,57.2 L80.3,60.9ZM93.1,68.3 L86.7,72.0 L80.3,68.3 L80.3,60.9 L86.7,57.2 L93.1,60.9ZM105.9,68.3 L99.5,72.0 L93.1,68.3 L93.1,60.9 L99.5,57.2 L105.9,60.9ZM9.8,79.4 L3.4,83.1 L-3.0,79.4 L-3.0,72.0 L3.4,68.3 L9.8,72.0ZM22.6,79.4 L16.2,83.1 L9.8,79.4 L9.8,72.0 L16.2,68.3 L22.6,72.0ZM35.5,79.4 L29.0,83.1 L22.6,79.4 L22.6,72.0 L29.0,68.3 L35.5,72.0ZM48.3,79.4 L41.9,83.1 L35.5,79.4 L35.5,72.0 L41.9,68.3 L48.3,72.0ZM61.1,79.4 L54.7,83.1 L48.3,79.4 L48.3,72.0 L54.7,68.3 L61.1,72.0ZM73.9,79.4 L67.5,83.1 L61.1,79.4 L61.1,72.0 L67.5,68.3 L73.9,72.0ZM86.7,79.4 L80.3,83.1 L73.9,79.4 L73.9,72.0 L80.3,68.3 L86.7,72.0ZM99.5,79.4 L93.1,83.1 L86.7,79.4 L86.7,72.0 L93.1,68.3 L99.5,72.0ZM112.4,79.4 L105.9,83.1 L99.5,79.4 L99.5,72.0 L105.9,68.3 L112.4,72.0ZM3.4,90.5 L-3.0,94.2 L-9.4,90.5 L-9.4,83.1 L-3.0,79.4 L3.4,83.1ZM16.2,90.5 L9.8,94.2 L3.4,90.5 L3.4,83.1 L9.8,79.4 L16.2,83.1ZM29.0,90.5 L22.6,94.2 L16.2,90.5 L16.2,83.1 L22.6,79.4 L29.0,83.1ZM41.9,90.5 L35.5,94.2 L29.0,90.5 L29.0,83.1 L35.5,79.4 L41.9,83.1ZM54.7,90.5 L48.3,94.2 L41.9,90.5 L41.9,83.1 L48.3,79.4 L54.7,83.1ZM67.5,90.5 L61.1,94.2 L54.7,90.5 L54.7,83.1 L61.1,79.4 L67.5,83.1ZM80.3,90.5 L73.9,94.2 L67.5,90.5 L67.5,83.1 L73.9,79.4 L80.3,83.1ZM93.1,90.5 L86.7,94.2 L80.3,90.5 L80.3,83.1 L86.7,79.4 L93.1,83.1ZM105.9,90.5 L99.5,94.2 L93.1,90.5 L93.1,83.1 L99.5,79.4 L105.9,83.1ZM9.8,101.6 L3.4,105.3 L-3.0,101.6 L-3.0,94.2 L3.4,90.5 L9.8,94.2ZM22.6,101.6 L16.2,105.3 L9.8,101.6 L9.8,94.2 L16.2,90.5 L22.6,94.2ZM35.5,101.6 L29.0,105.3 L22.6,101.6 L22.6,94.2 L29.0,90.5 L35.5,94.2ZM48.3,101.6 L41.9,105.3 L35.5,101.6 L35.5,94.2 L41.9,90.5 L48.3,94.2ZM61.1,101.6 L54.7,105.3 L48.3,101.6 L48.3,94.2 L54.7,90.5 L61.1,94.2ZM73.9,101.6 L67.5,105.3 L61.1,101.6 L61.1,94.2 L67.5,90.5 L73.9,94.2ZM86.7,101.6 L80.3,105.3 L73.9,101.6 L73.9,94.2 L80.3,90.5 L86.7,94.2ZM99.5,101.6 L93.1,105.3 L86.7,101.6 L86.7,94.2 L93.1,90.5 L99.5,94.2ZM112.4,101.6 L105.9,105.3 L99.5,101.6 L99.5,94.2 L105.9,90.5 L112.4,94.2ZM3.4,112.7 L-3.0,116.4 L-9.4,112.7 L-9.4,105.3 L-3.0,101.6 L3.4,105.3ZM16.2,112.7 L9.8,116.4 L3.4,112.7 L3.4,105.3 L9.8,101.6 L16.2,105.3ZM29.0,112.7 L22.6,116.4 L16.2,112.7 L16.2,105.3 L22.6,101.6 L29.0,105.3ZM41.9,112.7 L35.5,116.4 L29.0,112.7 L29.0,105.3 L35.5,101.6 L41.9,105.3ZM54.7,112.7 L48.3,116.4 L41.9,112.7 L41.9,105.3 L48.3,101.6 L54.7,105.3ZM67.5,112.7 L61.1,116.4 L54.7,112.7 L54.7,105.3 L61.1,101.6 L67.5,105.3ZM80.3,112.7 L73.9,116.4 L67.5,112.7 L67.5,105.3 L73.9,101.6 L80.3,105.3ZM93.1,112.7 L86.7,116.4 L80.3,112.7 L80.3,105.3 L86.7,101.6 L93.1,105.3ZM105.9,112.7 L99.5,116.4 L93.1,112.7 L93.1,105.3 L99.5,101.6 L105.9,105.3Z" fill="none" stroke="#2f86c4" stroke-width="0.32" opacity="0.6"/></g></g>
<polygon points="20.0,449.0 336.0,536.0 584.0,402.0 581.5,408.5 333.5,542.5 17.5,455.5" fill="#b8d0ee" stroke="#b8d0ee" stroke-width="1" stroke-linejoin="round"/>
<polygon points="20.0,449.0 336.0,536.0 584.0,402.0 582.8,405.0 334.8,539.0 18.8,452.0" fill="#fff" stroke="#fff" stroke-width="1" stroke-linejoin="round"/>
<polygon points="20.0,449.0 268.0,315.0 584.0,402.0 336.0,536.0" fill="#d2dff6"/>
<polygon points="20.0,449.0 268.0,315.0 584.0,402.0 336.0,536.0" fill="#fff" filter="url(#noise)" opacity="0.45"/>
<polygon points="28.0,396.0 341.0,484.5 589.4,347.0 586.9,353.2 338.5,490.7 25.5,402.2" fill="#0a1414" stroke="#0a1414" stroke-width="1" stroke-linejoin="round"/>
<polygon points="28.0,396.0 341.0,484.5 589.4,347.0 588.4,349.6 340.0,487.1 27.0,398.6" fill="#fff" stroke="#fff" stroke-width="1" stroke-linejoin="round"/>
<polygon points="28.0,396.0 276.4,258.5 589.4,347.0 341.0,484.5" fill="url(#znoG)"/>
<g clip-path="url(#znoClip)"><ellipse cx="585" cy="350" rx="110" ry="50" fill="#33504e" opacity="0.75" filter="url(#blur10)"/><path d="M10,372 C90,330 200,325 290,342 C380,360 460,380 600,375" fill="none" stroke="#164646" stroke-width="30" opacity="0.55" filter="url(#blur10)"/><path d="M430,372 C480,378 540,378 600,365" fill="none" stroke="#3a8a86" stroke-width="12" opacity="0.5" filter="url(#blur4)"/><path d="M20,384 L90,367 L150,370 L200,377 L280,388 L340,402 L440,414 L520,420 L600,412" fill="none" stroke="#2ee6d6" stroke-width="26" stroke-linejoin="round" opacity="0.22" filter="url(#blur8)"/><g filter="url(#blur15)">
<polygon points="28.3,396.8 25.1,392.4 13.6,392.6 5.2,397.2 8.4,401.6 20.0,401.4" fill="#243a3e" fill-opacity="0.95"/>
<polygon points="48.2,402.4 45.0,398.0 33.5,398.2 25.1,402.8 28.3,407.2 39.9,407.0" fill="#243a3e" fill-opacity="0.95"/>
<polygon points="68.1,408.0 64.9,403.6 53.4,403.8 45.0,408.5 48.2,412.9 59.8,412.6" fill="#243a3e" fill-opacity="0.95"/>
<polygon points="88.0,413.6 84.8,409.2 73.3,409.5 64.9,414.1 68.1,418.5 79.7,418.3" fill="#243a3e" fill-opacity="0.95"/>
<polygon points="107.9,419.3 104.7,414.9 93.2,415.1 84.8,419.7 88.0,424.1 99.6,423.9" fill="#243a3e" fill-opacity="0.95"/>
<polygon points="127.8,424.9 124.6,420.5 113.1,420.7 104.7,425.3 107.9,429.7 119.5,429.5" fill="#243a3e" fill-opacity="0.95"/>
<polygon points="147.7,430.5 144.5,426.1 133.0,426.4 124.7,431.0 127.8,435.4 139.4,435.1" fill="#243a3e" fill-opacity="0.95"/>
<polygon points="167.6,436.1 164.4,431.8 152.9,432.0 144.6,436.6 147.7,441.0 159.3,440.8" fill="#243a3e" fill-opacity="0.95"/>
<polygon points="187.5,441.8 184.3,437.4 172.8,437.6 164.5,442.2 167.6,446.6 179.2,446.4" fill="#243a3e" fill-opacity="0.95"/>
<polygon points="207.4,447.4 204.3,443.0 192.7,443.2 184.4,447.9 187.6,452.3 199.1,452.0" fill="#243a3e" fill-opacity="0.95"/>
<polygon points="227.3,453.0 224.2,448.6 212.6,448.9 204.3,453.5 207.5,457.9 219.0,457.6" fill="#243a3e" fill-opacity="0.95"/>
<polygon points="247.2,458.7 244.1,454.3 232.5,454.5 224.2,459.1 227.4,463.5 238.9,463.3" fill="#243a3e" fill-opacity="0.95"/>
<polygon points="267.1,464.3 264.0,459.9 252.4,460.1 244.1,464.7 247.3,469.1 258.8,468.9" fill="#243a3e" fill-opacity="0.95"/>
<polygon points="287.1,469.9 283.9,465.5 272.3,465.7 264.0,470.4 267.2,474.8 278.7,474.5" fill="#243a3e" fill-opacity="0.95"/>
<polygon points="307.0,475.5 303.8,471.1 292.2,471.4 283.9,476.0 287.1,480.4 298.6,480.2" fill="#243a3e" fill-opacity="0.95"/>
<polygon points="326.9,481.2 323.7,476.8 312.1,477.0 303.8,481.6 307.0,486.0 318.5,485.8" fill="#243a3e" fill-opacity="0.95"/>
<polygon points="346.8,486.8 343.6,482.4 332.0,482.6 323.7,487.2 326.9,491.6 338.4,491.4" fill="#243a3e" fill-opacity="0.95"/>
<polygon points="34.8,384.9 31.7,380.7 20.6,380.9 12.6,385.4 15.6,389.6 26.7,389.4" fill="#243a3e" fill-opacity="0.60"/>
<polygon points="53.9,390.4 50.8,386.1 39.7,386.4 31.7,390.8 34.8,395.0 45.9,394.8" fill="#243a3e" fill-opacity="0.92"/>
<polygon points="73.0,395.8 69.9,391.5 58.8,391.8 50.8,396.2 53.9,400.4 65.0,400.2" fill="#243a3e" fill-opacity="0.95"/>
<polygon points="92.1,401.2 89.1,396.9 78.0,397.2 69.9,401.6 73.0,405.8 84.1,405.6" fill="#243a3e" fill-opacity="0.95"/>
<polygon points="111.2,406.6 108.2,402.4 97.1,402.6 89.1,407.0 92.1,411.2 103.2,411.0" fill="#243a3e" fill-opacity="0.95"/>
<polygon points="130.4,412.0 127.3,407.8 116.2,408.0 108.2,412.4 111.3,416.6 122.3,416.4" fill="#243a3e" fill-opacity="0.95"/>
<polygon points="149.5,417.4 146.4,413.2 135.3,413.4 127.3,417.8 130.4,422.0 141.5,421.8" fill="#243a3e" fill-opacity="0.95"/>
<polygon points="168.6,422.8 165.5,418.6 154.5,418.8 146.4,423.2 149.5,427.5 160.6,427.2" fill="#243a3e" fill-opacity="0.95"/>
<polygon points="187.7,428.2 184.7,424.0 173.6,424.2 165.6,428.6 168.6,432.9 179.7,432.6" fill="#243a3e" fill-opacity="0.95"/>
<polygon points="206.8,433.6 203.8,429.4 192.7,429.6 184.7,434.0 187.7,438.3 198.8,438.0" fill="#243a3e" fill-opacity="0.95"/>
<polygon points="226.0,439.0 222.9,434.8 211.8,435.0 203.8,439.5 206.9,443.7 217.9,443.5" fill="#243a3e" fill-opacity="0.95"/>
<polygon points="245.1,444.4 242.0,440.2 230.9,440.4 222.9,444.9 226.0,449.1 237.1,448.9" fill="#243a3e" fill-opacity="0.95"/>
<polygon points="264.2,449.8 261.1,445.6 250.1,445.8 242.0,450.3 245.1,454.5 256.2,454.3" fill="#243a3e" fill-opacity="0.95"/>
<polygon points="283.3,455.2 280.3,451.0 269.2,451.2 261.2,455.7 264.2,459.9 275.3,459.7" fill="#243a3e" fill-opacity="0.95"/>
<polygon points="302.5,460.6 299.4,456.4 288.3,456.6 280.3,461.1 283.3,465.3 294.4,465.1" fill="#243a3e" fill-opacity="0.95"/>
<polygon points="321.6,466.0 318.5,461.8 307.4,462.0 299.4,466.5 302.5,470.7 313.6,470.5" fill="#243a3e" fill-opacity="0.95"/>
<polygon points="340.7,471.5 337.6,467.2 326.5,467.5 318.5,471.9 321.6,476.1 332.7,475.9" fill="#243a3e" fill-opacity="0.95"/>
<polygon points="359.8,476.9 356.8,472.6 345.7,472.9 337.6,477.3 340.7,481.5 351.8,481.3" fill="#243a3e" fill-opacity="0.95"/>
<polygon points="378.9,482.3 375.9,478.0 364.8,478.3 356.8,482.7 359.8,486.9 370.9,486.7" fill="#243a3e" fill-opacity="0.95"/>
<polygon points="59.7,378.9 56.7,374.9 46.1,375.1 38.4,379.3 41.3,383.4 52.0,383.2" fill="#243a3e" fill-opacity="0.61"/>
<polygon points="78.1,384.1 75.1,380.0 64.5,380.3 56.8,384.5 59.7,388.6 70.4,388.4" fill="#243a3e" fill-opacity="0.91"/>
<polygon points="96.4,389.3 93.5,385.2 82.8,385.5 75.1,389.7 78.1,393.8 88.7,393.6" fill="#243a3e" fill-opacity="0.95"/>
<polygon points="114.8,394.5 111.9,390.4 101.2,390.6 93.5,394.9 96.4,399.0 107.1,398.8" fill="#243a3e" fill-opacity="0.95"/>
<polygon points="133.2,399.7 130.2,395.6 119.6,395.8 111.9,400.1 114.8,404.2 125.5,404.0" fill="#243a3e" fill-opacity="0.95"/>
<polygon points="151.5,404.9 148.6,400.8 137.9,401.0 130.2,405.3 133.2,409.4 143.8,409.1" fill="#243a3e" fill-opacity="0.95"/>
<polygon points="169.9,410.1 167.0,406.0 156.3,406.2 148.6,410.5 151.6,414.6 162.2,414.3" fill="#243a3e" fill-opacity="0.95"/>
<polygon points="188.3,415.3 185.3,411.2 174.7,411.4 167.0,415.7 169.9,419.7 180.6,419.5" fill="#243a3e" fill-opacity="0.95"/>
<polygon points="206.7,420.5 203.7,416.4 193.1,416.6 185.3,420.9 188.3,424.9 198.9,424.7" fill="#243a3e" fill-opacity="0.95"/>
<polygon points="225.0,425.7 222.1,421.6 211.4,421.8 203.7,426.1 206.7,430.1 217.3,429.9" fill="#243a3e" fill-opacity="0.95"/>
<polygon points="243.4,430.9 240.4,426.8 229.8,427.0 222.1,431.3 225.0,435.3 235.7,435.1" fill="#243a3e" fill-opacity="0.95"/>
<polygon points="261.8,436.0 258.8,432.0 248.2,432.2 240.5,436.5 243.4,440.5 254.1,440.3" fill="#243a3e" fill-opacity="0.95"/>
<polygon points="280.1,441.2 277.2,437.2 266.5,437.4 258.8,441.7 261.8,445.7 272.4,445.5" fill="#243a3e" fill-opacity="0.95"/>
<polygon points="298.5,446.4 295.6,442.4 284.9,442.6 277.2,446.9 280.1,450.9 290.8,450.7" fill="#243a3e" fill-opacity="0.95"/>
<polygon points="316.9,451.6 313.9,447.6 303.3,447.8 295.6,452.1 298.5,456.1 309.2,455.9" fill="#243a3e" fill-opacity="0.95"/>
<polygon points="335.2,456.8 332.3,452.8 321.6,453.0 313.9,457.2 316.9,461.3 327.5,461.1" fill="#243a3e" fill-opacity="0.95"/>
<polygon points="353.6,462.0 350.7,458.0 340.0,458.2 332.3,462.4 335.3,466.5 345.9,466.3" fill="#243a3e" fill-opacity="0.95"/>
<polygon points="372.0,467.2 369.0,463.2 358.4,463.4 350.7,467.6 353.6,471.7 364.3,471.5" fill="#243a3e" fill-opacity="0.95"/>
<polygon points="390.4,472.4 387.4,468.3 376.8,468.6 369.1,472.8 372.0,476.9 382.6,476.7" fill="#243a3e" fill-opacity="0.95"/>
<polygon points="65.6,368.0 62.8,364.1 52.6,364.3 45.2,368.4 48.0,372.3 58.2,372.1" fill="#243a3e" fill-opacity="0.31"/>
<polygon points="83.3,373.0 80.5,369.1 70.2,369.3 62.8,373.4 65.6,377.3 75.9,377.1" fill="#243a3e" fill-opacity="0.60"/>
<polygon points="100.9,378.0 98.1,374.1 87.9,374.3 80.5,378.4 83.3,382.3 93.5,382.1" fill="#243a3e" fill-opacity="0.89"/>
<polygon points="118.6,383.0 115.8,379.1 105.5,379.3 98.1,383.4 100.9,387.3 111.2,387.1" fill="#243a3e" fill-opacity="0.95"/>
<polygon points="136.2,388.0 133.4,384.1 123.2,384.3 115.8,388.4 118.6,392.3 128.8,392.1" fill="#243a3e" fill-opacity="0.95"/>
<polygon points="153.9,393.0 151.0,389.1 140.8,389.3 133.4,393.4 136.2,397.3 146.5,397.1" fill="#243a3e" fill-opacity="0.95"/>
<polygon points="171.5,398.0 168.7,394.1 158.5,394.3 151.1,398.4 153.9,402.3 164.1,402.1" fill="#243a3e" fill-opacity="0.95"/>
<polygon points="189.2,402.9 186.3,399.1 176.1,399.3 168.7,403.4 171.5,407.2 181.8,407.0" fill="#243a3e" fill-opacity="0.95"/>
<polygon points="206.8,407.9 204.0,404.0 193.8,404.2 186.4,408.3 189.2,412.2 199.4,412.0" fill="#243a3e" fill-opacity="0.95"/>
<polygon points="224.5,412.9 221.6,409.0 211.4,409.2 204.0,413.3 206.8,417.2 217.1,417.0" fill="#243a3e" fill-opacity="0.95"/>
<polygon points="242.1,417.9 239.3,414.0 229.1,414.2 221.7,418.3 224.5,422.2 234.7,422.0" fill="#243a3e" fill-opacity="0.95"/>
<polygon points="259.8,422.9 256.9,419.0 246.7,419.2 239.3,423.3 242.1,427.2 252.4,427.0" fill="#243a3e" fill-opacity="0.95"/>
<polygon points="277.4,427.9 274.6,424.0 264.4,424.2 257.0,428.3 259.8,432.2 270.0,432.0" fill="#243a3e" fill-opacity="0.95"/>
<polygon points="295.1,432.9 292.2,429.0 282.0,429.2 274.6,433.3 277.4,437.2 287.7,437.0" fill="#243a3e" fill-opacity="0.95"/>
<polygon points="312.7,437.9 309.9,434.0 299.7,434.2 292.3,438.3 295.1,442.2 305.3,442.0" fill="#243a3e" fill-opacity="0.95"/>
<polygon points="330.4,442.9 327.5,439.0 317.3,439.2 309.9,443.3 312.7,447.2 323.0,447.0" fill="#243a3e" fill-opacity="0.95"/>
<polygon points="348.0,447.9 345.2,444.0 335.0,444.2 327.6,448.3 330.4,452.2 340.6,452.0" fill="#243a3e" fill-opacity="0.95"/>
<polygon points="365.7,452.8 362.8,449.0 352.6,449.2 345.2,453.3 348.0,457.1 358.3,456.9" fill="#243a3e" fill-opacity="0.95"/>
<polygon points="383.3,457.8 380.5,453.9 370.3,454.1 362.8,458.2 365.7,462.1 375.9,461.9" fill="#243a3e" fill-opacity="0.95"/>
<polygon points="401.0,462.8 398.1,458.9 387.9,459.1 380.5,463.2 383.3,467.1 393.6,466.9" fill="#243a3e" fill-opacity="0.95"/>
<polygon points="88.6,362.4 85.9,358.7 76.1,358.9 69.0,362.8 71.7,366.6 81.5,366.4" fill="#243a3e" fill-opacity="0.31"/>
<polygon points="105.6,367.2 102.9,363.5 93.1,363.7 85.9,367.6 88.7,371.4 98.5,371.2" fill="#243a3e" fill-opacity="0.54"/>
<polygon points="122.6,372.0 119.8,368.3 110.0,368.5 102.9,372.4 105.6,376.2 115.4,376.0" fill="#243a3e" fill-opacity="0.67"/>
<polygon points="139.5,376.8 136.8,373.1 127.0,373.3 119.9,377.2 122.6,381.0 132.4,380.8" fill="#243a3e" fill-opacity="0.79"/>
<polygon points="156.5,381.6 153.8,377.9 143.9,378.1 136.8,382.0 139.5,385.8 149.4,385.6" fill="#243a3e" fill-opacity="0.92"/>
<polygon points="173.4,386.4 170.7,382.7 160.9,382.9 153.8,386.8 156.5,390.5 166.3,390.3" fill="#243a3e" fill-opacity="0.95"/>
<polygon points="190.4,391.2 187.7,387.5 177.8,387.7 170.7,391.6 173.4,395.3 183.3,395.1" fill="#243a3e" fill-opacity="0.95"/>
<polygon points="207.3,396.0 204.6,392.3 194.8,392.5 187.7,396.4 190.4,400.1 200.2,399.9" fill="#243a3e" fill-opacity="0.95"/>
<polygon points="224.3,400.8 221.6,397.1 211.7,397.2 204.6,401.2 207.3,404.9 217.2,404.7" fill="#243a3e" fill-opacity="0.95"/>
<polygon points="241.2,405.6 238.5,401.8 228.7,402.0 221.6,406.0 224.3,409.7 234.1,409.5" fill="#243a3e" fill-opacity="0.95"/>
<polygon points="258.2,410.4 255.5,406.6 245.7,406.8 238.5,410.8 241.3,414.5 251.1,414.3" fill="#243a3e" fill-opacity="0.95"/>
<polygon points="275.2,415.2 272.4,411.4 262.6,411.6 255.5,415.6 258.2,419.3 268.0,419.1" fill="#243a3e" fill-opacity="0.95"/>
<polygon points="292.1,420.0 289.4,416.2 279.6,416.4 272.5,420.4 275.2,424.1 285.0,423.9" fill="#243a3e" fill-opacity="0.95"/>
<polygon points="309.1,424.8 306.4,421.0 296.5,421.2 289.4,425.2 292.1,428.9 302.0,428.7" fill="#243a3e" fill-opacity="0.95"/>
<polygon points="326.0,429.6 323.3,425.8 313.5,426.0 306.4,429.9 309.1,433.7 318.9,433.5" fill="#243a3e" fill-opacity="0.95"/>
<polygon points="343.0,434.4 340.3,430.6 330.4,430.8 323.3,434.7 326.0,438.5 335.9,438.3" fill="#243a3e" fill-opacity="0.95"/>
<polygon points="359.9,439.1 357.2,435.4 347.4,435.6 340.3,439.5 343.0,443.3 352.8,443.1" fill="#243a3e" fill-opacity="0.95"/>
<polygon points="376.9,443.9 374.2,440.2 364.3,440.4 357.2,444.3 360.0,448.1 369.8,447.9" fill="#243a3e" fill-opacity="0.95"/>
<polygon points="393.8,448.7 391.1,445.0 381.3,445.2 374.2,449.1 376.9,452.9 386.7,452.7" fill="#243a3e" fill-opacity="0.95"/>
<polygon points="410.8,453.5 408.1,449.8 398.3,450.0 391.1,453.9 393.9,457.7 403.7,457.5" fill="#243a3e" fill-opacity="0.95"/>
<polygon points="94.1,352.4 91.5,348.8 82.1,349.0 75.2,352.8 77.9,356.4 87.3,356.2" fill="#243a3e" fill-opacity="0.04"/>
<polygon points="110.4,357.0 107.8,353.4 98.4,353.6 91.5,357.4 94.1,361.0 103.6,360.8" fill="#243a3e" fill-opacity="0.21"/>
<polygon points="126.7,361.6 124.1,358.0 114.7,358.2 107.8,362.0 110.4,365.6 119.9,365.4" fill="#243a3e" fill-opacity="0.33"/>
<polygon points="143.0,366.2 140.4,362.6 130.9,362.8 124.1,366.6 126.7,370.2 136.2,370.0" fill="#243a3e" fill-opacity="0.45"/>
<polygon points="159.3,370.8 156.7,367.2 147.2,367.4 140.4,371.2 143.0,374.8 152.5,374.6" fill="#243a3e" fill-opacity="0.57"/>
<polygon points="175.6,375.4 173.0,371.8 163.5,372.0 156.7,375.8 159.3,379.4 168.7,379.2" fill="#243a3e" fill-opacity="0.64"/>
<polygon points="191.9,380.0 189.3,376.4 179.8,376.6 173.0,380.4 175.6,384.0 185.0,383.8" fill="#243a3e" fill-opacity="0.72"/>
<polygon points="208.2,384.6 205.6,381.0 196.1,381.2 189.3,385.0 191.9,388.6 201.3,388.4" fill="#243a3e" fill-opacity="0.79"/>
<polygon points="224.5,389.2 221.8,385.6 212.4,385.8 205.6,389.6 208.2,393.2 217.6,393.0" fill="#243a3e" fill-opacity="0.87"/>
<polygon points="240.7,393.8 238.1,390.2 228.7,390.4 221.9,394.2 224.5,397.8 233.9,397.6" fill="#243a3e" fill-opacity="0.94"/>
<polygon points="257.0,398.4 254.4,394.8 245.0,395.0 238.1,398.8 240.8,402.4 250.2,402.2" fill="#243a3e" fill-opacity="0.95"/>
<polygon points="273.3,403.1 270.7,399.5 261.3,399.6 254.4,403.4 257.0,407.0 266.5,406.8" fill="#243a3e" fill-opacity="0.95"/>
<polygon points="289.6,407.7 287.0,404.1 277.6,404.2 270.7,408.0 273.3,411.6 282.8,411.4" fill="#243a3e" fill-opacity="0.95"/>
<polygon points="305.9,412.3 303.3,408.7 293.8,408.9 287.0,412.6 289.6,416.2 299.1,416.0" fill="#243a3e" fill-opacity="0.95"/>
<polygon points="322.2,416.9 319.6,413.3 310.1,413.5 303.3,417.2 305.9,420.8 315.4,420.7" fill="#243a3e" fill-opacity="0.95"/>
<polygon points="338.5,421.5 335.9,417.9 326.4,418.1 319.6,421.8 322.2,425.4 331.6,425.3" fill="#243a3e" fill-opacity="0.95"/>
<polygon points="354.8,426.1 352.2,422.5 342.7,422.7 335.9,426.5 338.5,430.1 347.9,429.9" fill="#243a3e" fill-opacity="0.95"/>
<polygon points="371.1,430.7 368.5,427.1 359.0,427.3 352.2,431.1 354.8,434.7 364.2,434.5" fill="#243a3e" fill-opacity="0.95"/>
<polygon points="387.4,435.3 384.7,431.7 375.3,431.9 368.5,435.7 371.1,439.3 380.5,439.1" fill="#243a3e" fill-opacity="0.95"/>
<polygon points="403.6,439.9 401.0,436.3 391.6,436.5 384.8,440.3 387.4,443.9 396.8,443.7" fill="#243a3e" fill-opacity="0.95"/>
<polygon points="419.9,444.5 417.3,440.9 407.9,441.1 401.0,444.9 403.7,448.5 413.1,448.3" fill="#243a3e" fill-opacity="0.95"/>
<polygon points="436.2,449.1 433.6,445.5 424.2,445.7 417.3,449.5 419.9,453.1 429.4,452.9" fill="#243a3e" fill-opacity="0.95"/>
<polygon points="146.7,356.1 144.2,352.6 135.1,352.8 128.5,356.5 131.0,359.9 140.1,359.7" fill="#243a3e" fill-opacity="0.12"/>
<polygon points="162.3,360.5 159.8,357.1 150.7,357.2 144.2,360.9 146.7,364.3 155.8,364.2" fill="#243a3e" fill-opacity="0.23"/>
<polygon points="178.0,364.9 175.5,361.5 166.4,361.7 159.8,365.3 162.3,368.8 171.4,368.6" fill="#243a3e" fill-opacity="0.30"/>
<polygon points="193.6,369.4 191.1,365.9 182.0,366.1 175.5,369.7 178.0,373.2 187.1,373.0" fill="#243a3e" fill-opacity="0.37"/>
<polygon points="209.3,373.8 206.8,370.3 197.7,370.5 191.1,374.2 193.6,377.6 202.7,377.4" fill="#243a3e" fill-opacity="0.44"/>
<polygon points="224.9,378.2 222.4,374.8 213.3,374.9 206.8,378.6 209.3,382.0 218.4,381.9" fill="#243a3e" fill-opacity="0.51"/>
<polygon points="240.6,382.6 238.1,379.2 229.0,379.4 222.4,383.0 224.9,386.5 234.0,386.3" fill="#243a3e" fill-opacity="0.59"/>
<polygon points="256.2,387.1 253.7,383.6 244.6,383.8 238.1,387.4 240.6,390.9 249.7,390.7" fill="#243a3e" fill-opacity="0.66"/>
<polygon points="271.9,391.5 269.4,388.0 260.3,388.2 253.7,391.9 256.2,395.3 265.3,395.1" fill="#243a3e" fill-opacity="0.73"/>
<polygon points="287.5,395.9 285.0,392.5 275.9,392.6 269.4,396.3 271.9,399.7 281.0,399.6" fill="#243a3e" fill-opacity="0.80"/>
<polygon points="303.2,400.3 300.7,396.9 291.6,397.1 285.0,400.7 287.5,404.2 296.6,404.0" fill="#243a3e" fill-opacity="0.83"/>
<polygon points="318.8,404.8 316.3,401.3 307.2,401.5 300.7,405.1 303.2,408.6 312.3,408.4" fill="#243a3e" fill-opacity="0.86"/>
<polygon points="334.5,409.2 332.0,405.7 322.9,405.9 316.3,409.6 318.8,413.0 327.9,412.8" fill="#243a3e" fill-opacity="0.88"/>
<polygon points="350.1,413.6 347.6,410.2 338.5,410.3 332.0,414.0 334.5,417.4 343.6,417.3" fill="#243a3e" fill-opacity="0.91"/>
<polygon points="365.8,418.0 363.3,414.6 354.2,414.8 347.6,418.4 350.1,421.9 359.2,421.7" fill="#243a3e" fill-opacity="0.95"/>
<polygon points="381.4,422.5 378.9,419.0 369.8,419.2 363.3,422.8 365.8,426.3 374.9,426.1" fill="#243a3e" fill-opacity="0.95"/>
<polygon points="397.1,426.9 394.6,423.4 385.5,423.6 378.9,427.3 381.4,430.7 390.5,430.5" fill="#243a3e" fill-opacity="0.95"/>
<polygon points="412.7,431.3 410.2,427.9 401.1,428.0 394.6,431.7 397.1,435.1 406.2,435.0" fill="#243a3e" fill-opacity="0.95"/>
<polygon points="428.4,435.7 425.9,432.3 416.8,432.5 410.2,436.1 412.7,439.6 421.8,439.4" fill="#243a3e" fill-opacity="0.95"/>
<polygon points="444.0,440.2 441.5,436.7 432.4,436.9 425.9,440.5 428.4,444.0 437.5,443.8" fill="#243a3e" fill-opacity="0.95"/>
<polygon points="195.6,359.2 193.2,355.9 184.5,356.1 178.2,359.6 180.6,362.9 189.3,362.7" fill="#243a3e" fill-opacity="0.04"/>
<polygon points="210.7,363.5 208.2,360.1 199.5,360.3 193.2,363.8 195.6,367.1 204.3,367.0" fill="#243a3e" fill-opacity="0.11"/>
<polygon points="225.7,367.7 223.3,364.4 214.6,364.6 208.3,368.1 210.7,371.4 219.4,371.2" fill="#243a3e" fill-opacity="0.18"/>
<polygon points="240.7,372.0 238.3,368.7 229.6,368.8 223.3,372.3 225.7,375.6 234.4,375.5" fill="#243a3e" fill-opacity="0.25"/>
<polygon points="255.8,376.2 253.3,372.9 244.6,373.1 238.3,376.6 240.7,379.9 249.5,379.7" fill="#243a3e" fill-opacity="0.31"/>
<polygon points="270.8,380.5 268.4,377.2 259.7,377.3 253.4,380.8 255.8,384.1 264.5,384.0" fill="#243a3e" fill-opacity="0.38"/>
<polygon points="285.8,384.7 283.4,381.4 274.7,381.6 268.4,385.1 270.8,388.4 279.5,388.2" fill="#243a3e" fill-opacity="0.45"/>
<polygon points="300.9,389.0 298.5,385.7 289.7,385.8 283.4,389.3 285.8,392.6 294.6,392.5" fill="#243a3e" fill-opacity="0.48"/>
<polygon points="315.9,393.2 313.5,389.9 304.8,390.1 298.5,393.6 300.9,396.9 309.6,396.7" fill="#243a3e" fill-opacity="0.51"/>
<polygon points="330.9,397.5 328.5,394.2 319.8,394.3 313.5,397.8 315.9,401.1 324.6,401.0" fill="#243a3e" fill-opacity="0.53"/>
<polygon points="346.0,401.7 343.6,398.4 334.8,398.6 328.5,402.1 330.9,405.4 339.7,405.2" fill="#243a3e" fill-opacity="0.56"/>
<polygon points="361.0,406.0 358.6,402.7 349.9,402.8 343.6,406.3 346.0,409.6 354.7,409.5" fill="#243a3e" fill-opacity="0.62"/>
<polygon points="376.0,410.2 373.6,406.9 364.9,407.1 358.6,410.6 361.0,413.9 369.7,413.7" fill="#243a3e" fill-opacity="0.70"/>
<polygon points="391.1,414.5 388.7,411.2 380.0,411.3 373.6,414.8 376.1,418.1 384.8,418.0" fill="#243a3e" fill-opacity="0.78"/>
<polygon points="406.1,418.7 403.7,415.4 395.0,415.6 388.7,419.1 391.1,422.4 399.8,422.2" fill="#243a3e" fill-opacity="0.86"/>
<polygon points="421.1,423.0 418.7,419.7 410.0,419.8 403.7,423.3 406.1,426.6 414.8,426.5" fill="#243a3e" fill-opacity="0.93"/>
<polygon points="436.2,427.2 433.8,423.9 425.1,424.1 418.7,427.6 421.2,430.9 429.9,430.7" fill="#243a3e" fill-opacity="0.95"/>
<polygon points="451.2,431.5 448.8,428.2 440.1,428.3 433.8,431.8 436.2,435.2 444.9,435.0" fill="#243a3e" fill-opacity="0.93"/>
<polygon points="270.0,370.0 267.7,366.8 259.4,366.9 253.3,370.3 255.6,373.5 264.0,373.3" fill="#243a3e" fill-opacity="0.05"/>
<polygon points="284.5,374.1 282.2,370.9 273.8,371.0 267.7,374.4 270.1,377.6 278.4,377.4" fill="#243a3e" fill-opacity="0.12"/>
<polygon points="298.9,378.1 296.6,375.0 288.3,375.1 282.2,378.5 284.5,381.7 292.9,381.5" fill="#243a3e" fill-opacity="0.15"/>
<polygon points="313.4,382.2 311.1,379.0 302.7,379.2 296.6,382.6 298.9,385.7 307.3,385.6" fill="#243a3e" fill-opacity="0.18"/>
<polygon points="327.8,386.3 325.5,383.1 317.1,383.3 311.1,386.6 313.4,389.8 321.8,389.7" fill="#243a3e" fill-opacity="0.20"/>
<polygon points="342.3,390.4 340.0,387.2 331.6,387.4 325.5,390.7 327.8,393.9 336.2,393.7" fill="#243a3e" fill-opacity="0.22"/>
<polygon points="356.7,394.5 354.4,391.3 346.0,391.5 340.0,394.8 342.3,398.0 350.7,397.8" fill="#243a3e" fill-opacity="0.27"/>
<polygon points="371.2,398.6 368.8,395.4 360.5,395.5 354.4,398.9 356.7,402.1 365.1,401.9" fill="#243a3e" fill-opacity="0.35"/>
<polygon points="385.6,402.6 383.3,399.5 374.9,399.6 368.9,403.0 371.2,406.2 379.5,406.0" fill="#243a3e" fill-opacity="0.42"/>
<polygon points="400.1,406.7 397.7,403.5 389.4,403.7 383.3,407.1 385.6,410.2 394.0,410.1" fill="#243a3e" fill-opacity="0.50"/>
<polygon points="414.5,410.8 412.2,407.6 403.8,407.8 397.7,411.1 400.1,414.3 408.4,414.2" fill="#243a3e" fill-opacity="0.57"/>
<polygon points="428.9,414.9 426.6,411.7 418.3,411.9 412.2,415.2 414.5,418.4 422.9,418.3" fill="#243a3e" fill-opacity="0.65"/>
<polygon points="443.4,419.0 441.1,415.8 432.7,416.0 426.6,419.3 429.0,422.5 437.3,422.3" fill="#243a3e" fill-opacity="0.72"/>
<polygon points="457.8,423.1 455.5,419.9 447.1,420.0 441.1,423.4 443.4,426.6 451.8,426.4" fill="#243a3e" fill-opacity="0.74"/>
<polygon points="472.3,427.1 470.0,424.0 461.6,424.1 455.5,427.5 457.8,430.7 466.2,430.5" fill="#243a3e" fill-opacity="0.72"/>
<polygon points="380.6,391.4 378.4,388.3 370.4,388.4 364.5,391.7 366.8,394.7 374.8,394.6" fill="#243a3e" fill-opacity="0.08"/>
<polygon points="394.5,395.3 392.3,392.2 384.2,392.4 378.4,395.6 380.6,398.7 388.7,398.5" fill="#243a3e" fill-opacity="0.15"/>
<polygon points="408.4,399.2 406.2,396.1 398.1,396.3 392.3,399.5 394.5,402.6 402.6,402.4" fill="#243a3e" fill-opacity="0.23"/>
<polygon points="422.3,403.1 420.0,400.1 412.0,400.2 406.2,403.4 408.4,406.5 416.4,406.3" fill="#243a3e" fill-opacity="0.30"/>
<polygon points="436.1,407.0 433.9,404.0 425.9,404.1 420.1,407.4 422.3,410.4 430.3,410.3" fill="#243a3e" fill-opacity="0.37"/>
<polygon points="450.0,411.0 447.8,407.9 439.8,408.1 433.9,411.3 436.2,414.4 444.2,414.2" fill="#243a3e" fill-opacity="0.44"/>
<polygon points="463.9,414.9 461.7,411.8 453.6,412.0 447.8,415.2 450.0,418.3 458.1,418.1" fill="#243a3e" fill-opacity="0.46"/>
<polygon points="477.8,418.8 475.6,415.8 467.5,415.9 461.7,419.1 463.9,422.2 472.0,422.0" fill="#243a3e" fill-opacity="0.47"/>
<polygon points="429.5,395.7 427.3,392.7 419.6,392.9 414.0,396.0 416.1,398.9 423.9,398.8" fill="#243a3e" fill-opacity="0.03"/>
<polygon points="442.8,399.4 440.7,396.5 432.9,396.6 427.3,399.7 429.5,402.7 437.2,402.5" fill="#243a3e" fill-opacity="0.10"/>
<polygon points="456.1,403.2 454.0,400.3 446.3,400.4 440.7,403.5 442.8,406.4 450.5,406.3" fill="#243a3e" fill-opacity="0.17"/>
<polygon points="469.5,407.0 467.3,404.0 459.6,404.2 454.0,407.3 456.1,410.2 463.9,410.1" fill="#243a3e" fill-opacity="0.22"/>
<polygon points="482.8,410.7 480.7,407.8 472.9,407.9 467.3,411.0 469.5,414.0 477.2,413.8" fill="#243a3e" fill-opacity="0.25"/>
<polygon points="496.1,414.5 494.0,411.6 486.3,411.7 480.7,414.8 482.8,417.8 490.5,417.6" fill="#243a3e" fill-opacity="0.27"/>
<polygon points="487.4,402.9 485.3,400.1 477.9,400.2 472.5,403.2 474.6,406.0 482.0,405.9" fill="#243a3e" fill-opacity="0.06"/>
<polygon points="500.2,406.5 498.1,403.7 490.7,403.8 485.3,406.8 487.4,409.6 494.8,409.5" fill="#243a3e" fill-opacity="0.10"/>
</g>
<g fill="none" stroke="#3cf0e4" stroke-linejoin="round">
<polygon points="32.4,396.7 28.1,390.7 12.5,391.0 1.2,397.3 5.5,403.2 21.1,402.9" stroke-opacity="0.50" stroke-width="1.07"/>
<polygon points="52.3,402.3 48.0,396.4 32.4,396.7 21.1,402.9 25.4,408.9 41.0,408.5" stroke-opacity="0.15" stroke-width="1.07"/>
<polygon points="72.2,407.9 67.9,402.0 52.3,402.3 41.0,408.5 45.3,414.5 60.9,414.2" stroke-opacity="0.07" stroke-width="1.07"/>
<polygon points="92.1,413.6 87.8,407.6 72.2,407.9 60.9,414.2 65.2,420.1 80.8,419.8" stroke-opacity="0.07" stroke-width="1.07"/>
<polygon points="112.0,419.2 107.7,413.2 92.1,413.6 80.8,419.8 85.1,425.7 100.7,425.4" stroke-opacity="0.07" stroke-width="1.07"/>
<polygon points="131.9,424.8 127.6,418.9 112.0,419.2 100.7,425.4 105.0,431.4 120.6,431.1" stroke-opacity="0.07" stroke-width="1.07"/>
<polygon points="151.8,430.4 147.5,424.5 131.9,424.8 120.6,431.1 124.9,437.0 140.5,436.7" stroke-opacity="0.07" stroke-width="1.07"/>
<polygon points="171.7,436.1 167.4,430.1 151.8,430.4 140.5,436.7 144.8,442.6 160.4,442.3" stroke-opacity="0.07" stroke-width="1.07"/>
<polygon points="191.6,441.7 187.3,435.8 171.7,436.1 160.4,442.3 164.7,448.2 180.3,447.9" stroke-opacity="0.07" stroke-width="1.07"/>
<polygon points="211.5,447.3 207.2,441.4 191.6,441.7 180.3,447.9 184.6,453.9 200.2,453.6" stroke-opacity="0.07" stroke-width="1.07"/>
<polygon points="231.4,452.9 227.1,447.0 211.5,447.3 200.2,453.6 204.5,459.5 220.1,459.2" stroke-opacity="0.07" stroke-width="1.07"/>
<polygon points="251.3,458.6 247.0,452.6 231.4,452.9 220.1,459.2 224.4,465.1 240.0,464.8" stroke-opacity="0.07" stroke-width="1.07"/>
<polygon points="271.2,464.2 266.9,458.3 251.3,458.6 240.0,464.8 244.3,470.8 259.9,470.4" stroke-opacity="0.07" stroke-width="1.07"/>
<polygon points="291.1,469.8 286.8,463.9 271.2,464.2 259.9,470.4 264.2,476.4 279.8,476.1" stroke-opacity="0.07" stroke-width="1.07"/>
<polygon points="311.0,475.5 306.7,469.5 291.1,469.8 279.8,476.1 284.1,482.0 299.7,481.7" stroke-opacity="0.07" stroke-width="1.07"/>
<polygon points="330.9,481.1 326.6,475.1 311.0,475.5 299.7,481.7 304.0,487.6 319.6,487.3" stroke-opacity="0.07" stroke-width="1.07"/>
<polygon points="350.8,486.7 346.5,480.8 330.9,481.1 319.6,487.3 323.9,493.3 339.5,493.0" stroke-opacity="0.07" stroke-width="1.07"/>
<polygon points="38.6,384.9 34.5,379.2 19.5,379.5 8.7,385.5 12.8,391.2 27.8,390.9" stroke-opacity="0.95" stroke-width="1.04"/>
<polygon points="57.8,390.3 53.6,384.6 38.6,384.9 27.8,390.9 31.9,396.6 46.9,396.3" stroke-opacity="0.54" stroke-width="1.04"/>
<polygon points="76.9,395.7 72.7,390.0 57.8,390.3 46.9,396.3 51.1,402.0 66.0,401.7" stroke-opacity="0.17" stroke-width="1.04"/>
<polygon points="96.0,401.1 91.9,395.4 76.9,395.7 66.0,401.7 70.2,407.4 85.2,407.1" stroke-opacity="0.07" stroke-width="1.04"/>
<polygon points="115.1,406.5 111.0,400.8 96.0,401.1 85.2,407.1 89.3,412.8 104.3,412.5" stroke-opacity="0.07" stroke-width="1.04"/>
<polygon points="134.3,411.9 130.1,406.2 115.1,406.5 104.3,412.5 108.4,418.2 123.4,417.9" stroke-opacity="0.07" stroke-width="1.04"/>
<polygon points="153.4,417.3 149.2,411.6 134.3,411.9 123.4,417.9 127.6,423.6 142.5,423.3" stroke-opacity="0.07" stroke-width="1.04"/>
<polygon points="172.5,422.7 168.4,417.0 153.4,417.3 142.5,423.3 146.7,429.0 161.7,428.7" stroke-opacity="0.07" stroke-width="1.04"/>
<polygon points="191.6,428.1 187.5,422.4 172.5,422.7 161.7,428.7 165.8,434.4 180.8,434.1" stroke-opacity="0.07" stroke-width="1.04"/>
<polygon points="210.7,433.5 206.6,427.8 191.6,428.1 180.8,434.1 184.9,439.8 199.9,439.5" stroke-opacity="0.07" stroke-width="1.04"/>
<polygon points="229.9,438.9 225.7,433.2 210.7,433.5 199.9,439.5 204.0,445.2 219.0,444.9" stroke-opacity="0.07" stroke-width="1.04"/>
<polygon points="249.0,444.3 244.8,438.6 229.9,438.9 219.0,444.9 223.2,450.6 238.1,450.3" stroke-opacity="0.07" stroke-width="1.04"/>
<polygon points="268.1,449.7 264.0,444.0 249.0,444.3 238.1,450.3 242.3,456.0 257.3,455.8" stroke-opacity="0.07" stroke-width="1.04"/>
<polygon points="287.2,455.2 283.1,449.5 268.1,449.7 257.3,455.8 261.4,461.5 276.4,461.2" stroke-opacity="0.07" stroke-width="1.04"/>
<polygon points="306.3,460.6 302.2,454.9 287.2,455.2 276.4,461.2 280.5,466.9 295.5,466.6" stroke-opacity="0.07" stroke-width="1.04"/>
<polygon points="325.5,466.0 321.3,460.3 306.3,460.6 295.5,466.6 299.6,472.3 314.6,472.0" stroke-opacity="0.07" stroke-width="1.04"/>
<polygon points="344.6,471.4 340.5,465.7 325.5,466.0 314.6,472.0 318.8,477.7 333.8,477.4" stroke-opacity="0.07" stroke-width="1.04"/>
<polygon points="363.7,476.8 359.6,471.1 344.6,471.4 333.8,477.4 337.9,483.1 352.9,482.8" stroke-opacity="0.07" stroke-width="1.04"/>
<polygon points="382.8,482.2 378.7,476.5 363.7,476.8 352.9,482.8 357.0,488.5 372.0,488.2" stroke-opacity="0.07" stroke-width="1.04"/>
<polygon points="63.4,378.8 59.5,373.4 45.1,373.6 34.6,379.4 38.6,384.9 53.0,384.6" stroke-opacity="0.95" stroke-width="1.01"/>
<polygon points="81.8,384.0 77.8,378.5 63.4,378.8 53.0,384.6 57.0,390.1 71.4,389.8" stroke-opacity="0.55" stroke-width="1.01"/>
<polygon points="100.2,389.2 96.2,383.7 81.8,384.0 71.4,389.8 75.4,395.3 89.8,395.0" stroke-opacity="0.18" stroke-width="1.01"/>
<polygon points="118.5,394.4 114.6,388.9 100.2,389.2 89.8,395.0 93.7,400.5 108.1,400.2" stroke-opacity="0.07" stroke-width="1.01"/>
<polygon points="136.9,399.6 132.9,394.1 118.5,394.4 108.1,400.2 112.1,405.7 126.5,405.4" stroke-opacity="0.07" stroke-width="1.01"/>
<polygon points="155.3,404.8 151.3,399.3 136.9,399.6 126.5,405.4 130.5,410.9 144.9,410.6" stroke-opacity="0.07" stroke-width="1.01"/>
<polygon points="173.7,410.0 169.7,404.5 155.3,404.8 144.9,410.6 148.8,416.1 163.2,415.8" stroke-opacity="0.07" stroke-width="1.01"/>
<polygon points="192.0,415.2 188.0,409.7 173.7,410.0 163.2,415.8 167.2,421.2 181.6,421.0" stroke-opacity="0.07" stroke-width="1.01"/>
<polygon points="210.4,420.4 206.4,414.9 192.0,415.2 181.6,421.0 185.6,426.4 200.0,426.2" stroke-opacity="0.07" stroke-width="1.01"/>
<polygon points="228.8,425.6 224.8,420.1 210.4,420.4 200.0,426.2 204.0,431.6 218.3,431.3" stroke-opacity="0.07" stroke-width="1.01"/>
<polygon points="247.1,430.8 243.2,425.3 228.8,425.6 218.3,431.3 222.3,436.8 236.7,436.5" stroke-opacity="0.07" stroke-width="1.01"/>
<polygon points="265.5,436.0 261.5,430.5 247.1,430.8 236.7,436.5 240.7,442.0 255.1,441.7" stroke-opacity="0.07" stroke-width="1.01"/>
<polygon points="283.9,441.2 279.9,435.7 265.5,436.0 255.1,441.7 259.1,447.2 273.5,446.9" stroke-opacity="0.07" stroke-width="1.01"/>
<polygon points="302.2,446.4 298.3,440.9 283.9,441.2 273.5,446.9 277.4,452.4 291.8,452.1" stroke-opacity="0.07" stroke-width="1.01"/>
<polygon points="320.6,451.6 316.6,446.1 302.2,446.4 291.8,452.1 295.8,457.6 310.2,457.3" stroke-opacity="0.07" stroke-width="1.01"/>
<polygon points="339.0,456.7 335.0,451.3 320.6,451.6 310.2,457.3 314.2,462.8 328.6,462.5" stroke-opacity="0.07" stroke-width="1.01"/>
<polygon points="357.4,461.9 353.4,456.5 339.0,456.7 328.6,462.5 332.5,468.0 346.9,467.7" stroke-opacity="0.07" stroke-width="1.01"/>
<polygon points="375.7,467.1 371.7,461.7 357.4,461.9 346.9,467.7 350.9,473.2 365.3,472.9" stroke-opacity="0.07" stroke-width="1.01"/>
<polygon points="394.1,472.3 390.1,466.9 375.7,467.1 365.3,472.9 369.3,478.4 383.7,478.1" stroke-opacity="0.06" stroke-width="1.01"/>
<polygon points="69.2,367.9 65.4,362.7 51.6,363.0 41.6,368.5 45.4,373.8 59.2,373.5" stroke-opacity="0.92" stroke-width="0.99"/>
<polygon points="86.9,372.9 83.1,367.7 69.2,367.9 59.2,373.5 63.0,378.7 76.9,378.5" stroke-opacity="0.95" stroke-width="0.99"/>
<polygon points="104.5,377.9 100.7,372.7 86.9,372.9 76.9,378.5 80.7,383.7 94.5,383.5" stroke-opacity="0.59" stroke-width="0.99"/>
<polygon points="122.2,382.9 118.4,377.7 104.5,377.9 94.5,383.5 98.3,388.7 112.2,388.5" stroke-opacity="0.40" stroke-width="0.99"/>
<polygon points="139.8,387.9 136.0,382.6 122.2,382.9 112.2,388.5 116.0,393.7 129.8,393.4" stroke-opacity="0.24" stroke-width="0.99"/>
<polygon points="157.5,392.9 153.6,387.6 139.8,387.9 129.8,393.4 133.6,398.7 147.5,398.4" stroke-opacity="0.13" stroke-width="0.99"/>
<polygon points="175.1,397.9 171.3,392.6 157.5,392.9 147.5,398.4 151.3,403.7 165.1,403.4" stroke-opacity="0.08" stroke-width="0.99"/>
<polygon points="192.8,402.9 188.9,397.6 175.1,397.9 165.1,403.4 168.9,408.7 182.8,408.4" stroke-opacity="0.07" stroke-width="0.99"/>
<polygon points="210.4,407.9 206.6,402.6 192.8,402.9 182.8,408.4 186.6,413.7 200.4,413.4" stroke-opacity="0.07" stroke-width="0.99"/>
<polygon points="228.1,412.9 224.2,407.6 210.4,407.9 200.4,413.4 204.2,418.7 218.1,418.4" stroke-opacity="0.07" stroke-width="0.99"/>
<polygon points="245.7,417.8 241.9,412.6 228.1,412.9 218.1,418.4 221.9,423.7 235.7,423.4" stroke-opacity="0.07" stroke-width="0.99"/>
<polygon points="263.4,422.8 259.5,417.6 245.7,417.8 235.7,423.4 239.5,428.6 253.4,428.4" stroke-opacity="0.07" stroke-width="0.99"/>
<polygon points="281.0,427.8 277.2,422.6 263.4,422.8 253.4,428.4 257.2,433.6 271.0,433.4" stroke-opacity="0.07" stroke-width="0.99"/>
<polygon points="298.7,432.8 294.8,427.6 281.0,427.8 271.0,433.4 274.8,438.6 288.7,438.4" stroke-opacity="0.07" stroke-width="0.99"/>
<polygon points="316.3,437.8 312.5,432.5 298.7,432.8 288.7,438.4 292.5,443.6 306.3,443.3" stroke-opacity="0.07" stroke-width="0.99"/>
<polygon points="334.0,442.8 330.1,437.5 316.3,437.8 306.3,443.3 310.1,448.6 324.0,448.3" stroke-opacity="0.07" stroke-width="0.99"/>
<polygon points="351.6,447.8 347.8,442.5 334.0,442.8 324.0,448.3 327.8,453.6 341.6,453.3" stroke-opacity="0.07" stroke-width="0.99"/>
<polygon points="369.3,452.8 365.4,447.5 351.6,447.8 341.6,453.3 345.4,458.6 359.3,458.3" stroke-opacity="0.07" stroke-width="0.99"/>
<polygon points="386.9,457.8 383.1,452.5 369.3,452.8 359.3,458.3 363.1,463.6 376.9,463.3" stroke-opacity="0.06" stroke-width="0.99"/>
<polygon points="404.6,462.8 400.7,457.5 386.9,457.8 376.9,463.3 380.7,468.6 394.6,468.3" stroke-opacity="0.05" stroke-width="0.99"/>
<polygon points="92.1,362.4 88.4,357.3 75.1,357.6 65.5,362.9 69.2,368.0 82.5,367.7" stroke-opacity="0.92" stroke-width="0.96"/>
<polygon points="109.1,367.2 105.4,362.1 92.1,362.4 82.5,367.7 86.2,372.8 99.4,372.5" stroke-opacity="0.99" stroke-width="0.96"/>
<polygon points="126.0,372.0 122.3,366.9 109.1,367.2 99.4,372.5 103.1,377.5 116.4,377.3" stroke-opacity="0.89" stroke-width="0.96"/>
<polygon points="143.0,376.8 139.3,371.7 126.0,372.0 116.4,377.3 120.1,382.3 133.4,382.1" stroke-opacity="0.73" stroke-width="0.96"/>
<polygon points="159.9,381.5 156.3,376.5 143.0,376.8 133.4,382.1 137.0,387.1 150.3,386.9" stroke-opacity="0.55" stroke-width="0.96"/>
<polygon points="176.9,386.3 173.2,381.3 159.9,381.5 150.3,386.9 154.0,391.9 167.3,391.7" stroke-opacity="0.42" stroke-width="0.96"/>
<polygon points="193.8,391.1 190.2,386.1 176.9,386.3 167.3,391.7 170.9,396.7 184.2,396.5" stroke-opacity="0.32" stroke-width="0.96"/>
<polygon points="210.8,395.9 207.1,390.9 193.8,391.1 184.2,396.5 187.9,401.5 201.2,401.3" stroke-opacity="0.24" stroke-width="0.96"/>
<polygon points="227.7,400.7 224.1,395.7 210.8,395.9 201.2,401.3 204.8,406.3 218.1,406.0" stroke-opacity="0.17" stroke-width="0.96"/>
<polygon points="244.7,405.5 241.0,400.5 227.7,400.7 218.1,406.0 221.8,411.1 235.1,410.8" stroke-opacity="0.12" stroke-width="0.96"/>
<polygon points="261.7,410.3 258.0,405.3 244.7,405.5 235.1,410.8 238.8,415.9 252.0,415.6" stroke-opacity="0.08" stroke-width="0.96"/>
<polygon points="278.6,415.1 274.9,410.1 261.7,410.3 252.0,415.6 255.7,420.7 269.0,420.4" stroke-opacity="0.07" stroke-width="0.96"/>
<polygon points="295.6,419.9 291.9,414.8 278.6,415.1 269.0,420.4 272.7,425.5 286.0,425.2" stroke-opacity="0.07" stroke-width="0.96"/>
<polygon points="312.5,424.7 308.9,419.6 295.6,419.9 286.0,425.2 289.6,430.3 302.9,430.0" stroke-opacity="0.07" stroke-width="0.96"/>
<polygon points="329.5,429.5 325.8,424.4 312.5,424.7 302.9,430.0 306.6,435.1 319.9,434.8" stroke-opacity="0.07" stroke-width="0.96"/>
<polygon points="346.4,434.3 342.8,429.2 329.5,429.5 319.9,434.8 323.5,439.9 336.8,439.6" stroke-opacity="0.07" stroke-width="0.96"/>
<polygon points="363.4,439.1 359.7,434.0 346.4,434.3 336.8,439.6 340.5,444.7 353.8,444.4" stroke-opacity="0.07" stroke-width="0.96"/>
<polygon points="380.3,443.9 376.7,438.8 363.4,439.1 353.8,444.4 357.5,449.5 370.7,449.2" stroke-opacity="0.07" stroke-width="0.96"/>
<polygon points="397.3,448.7 393.6,443.6 380.3,443.9 370.7,449.2 374.4,454.3 387.7,454.0" stroke-opacity="0.06" stroke-width="0.96"/>
<polygon points="414.3,453.5 410.6,448.4 397.3,448.7 387.7,454.0 391.4,459.0 404.6,458.8" stroke-opacity="0.05" stroke-width="0.96"/>
<polygon points="97.5,352.3 93.9,347.5 81.2,347.7 71.9,352.8 75.5,357.7 88.2,357.4" stroke-opacity="0.56" stroke-width="0.94"/>
<polygon points="113.7,356.9 110.2,352.1 97.5,352.3 88.2,357.4 91.7,362.3 104.5,362.0" stroke-opacity="0.81" stroke-width="0.94"/>
<polygon points="130.0,361.5 126.5,356.7 113.7,356.9 104.5,362.0 108.0,366.9 120.8,366.6" stroke-opacity="0.94" stroke-width="0.94"/>
<polygon points="146.3,366.1 142.8,361.3 130.0,361.5 120.8,366.6 124.3,371.5 137.1,371.3" stroke-opacity="1.00" stroke-width="0.94"/>
<polygon points="162.6,370.7 159.1,365.9 146.3,366.1 137.1,371.3 140.6,376.1 153.4,375.9" stroke-opacity="0.97" stroke-width="0.94"/>
<polygon points="178.9,375.3 175.4,370.5 162.6,370.7 153.4,375.9 156.9,380.7 169.7,380.5" stroke-opacity="0.92" stroke-width="0.94"/>
<polygon points="195.2,380.0 191.7,375.1 178.9,375.3 169.7,380.5 173.2,385.3 186.0,385.1" stroke-opacity="0.83" stroke-width="0.94"/>
<polygon points="211.5,384.6 208.0,379.7 195.2,380.0 186.0,385.1 189.5,389.9 202.2,389.7" stroke-opacity="0.73" stroke-width="0.94"/>
<polygon points="227.8,389.2 224.2,384.3 211.5,384.6 202.2,389.7 205.8,394.5 218.5,394.3" stroke-opacity="0.62" stroke-width="0.94"/>
<polygon points="244.1,393.8 240.5,388.9 227.8,389.2 218.5,394.3 222.1,399.1 234.8,398.9" stroke-opacity="0.51" stroke-width="0.94"/>
<polygon points="260.3,398.4 256.8,393.5 244.1,393.8 234.8,398.9 238.4,403.7 251.1,403.5" stroke-opacity="0.41" stroke-width="0.94"/>
<polygon points="276.6,403.0 273.1,398.1 260.3,398.4 251.1,403.5 254.6,408.4 267.4,408.1" stroke-opacity="0.31" stroke-width="0.94"/>
<polygon points="292.9,407.6 289.4,402.7 276.6,403.0 267.4,408.1 270.9,413.0 283.7,412.7" stroke-opacity="0.23" stroke-width="0.94"/>
<polygon points="309.2,412.2 305.7,407.3 292.9,407.6 283.7,412.7 287.2,417.6 300.0,417.3" stroke-opacity="0.21" stroke-width="0.94"/>
<polygon points="325.5,416.8 322.0,411.9 309.2,412.2 300.0,417.3 303.5,422.2 316.3,421.9" stroke-opacity="0.18" stroke-width="0.94"/>
<polygon points="341.8,421.4 338.3,416.6 325.5,416.8 316.3,421.9 319.8,426.8 332.6,426.5" stroke-opacity="0.16" stroke-width="0.94"/>
<polygon points="358.1,426.0 354.6,421.2 341.8,421.4 332.6,426.5 336.1,431.4 348.9,431.1" stroke-opacity="0.13" stroke-width="0.94"/>
<polygon points="374.4,430.6 370.9,425.8 358.1,426.0 348.9,431.1 352.4,436.0 365.1,435.7" stroke-opacity="0.08" stroke-width="0.94"/>
<polygon points="390.7,435.2 387.1,430.4 374.4,430.6 365.1,435.7 368.7,440.6 381.4,440.3" stroke-opacity="0.06" stroke-width="0.94"/>
<polygon points="407.0,439.8 403.4,435.0 390.7,435.2 381.4,440.3 385.0,445.2 397.7,444.9" stroke-opacity="0.05" stroke-width="0.94"/>
<polygon points="423.2,444.4 419.7,439.6 407.0,439.8 397.7,444.9 401.3,449.8 414.0,449.6" stroke-opacity="0.04" stroke-width="0.94"/>
<polygon points="118.6,347.2 115.2,342.5 102.9,342.8 94.0,347.7 97.4,352.3 109.7,352.1" stroke-opacity="0.35" stroke-width="0.91"/>
<polygon points="134.2,351.6 130.8,346.9 118.6,347.2 109.7,352.1 113.1,356.8 125.3,356.5" stroke-opacity="0.51" stroke-width="0.91"/>
<polygon points="149.9,356.0 146.5,351.4 134.2,351.6 125.3,356.5 128.7,361.2 141.0,360.9" stroke-opacity="0.68" stroke-width="0.91"/>
<polygon points="165.5,360.5 162.1,355.8 149.9,356.0 141.0,360.9 144.4,365.6 156.6,365.4" stroke-opacity="0.83" stroke-width="0.91"/>
<polygon points="181.2,364.9 177.8,360.2 165.5,360.5 156.6,365.4 160.0,370.0 172.3,369.8" stroke-opacity="0.91" stroke-width="0.91"/>
<polygon points="196.8,369.3 193.4,364.6 181.2,364.9 172.3,369.8 175.7,374.5 187.9,374.2" stroke-opacity="0.97" stroke-width="0.91"/>
<polygon points="212.5,373.7 209.1,369.1 196.8,369.3 187.9,374.2 191.3,378.9 203.6,378.6" stroke-opacity="1.00" stroke-width="0.91"/>
<polygon points="228.1,378.2 224.7,373.5 212.5,373.7 203.6,378.6 207.0,383.3 219.2,383.1" stroke-opacity="1.00" stroke-width="0.91"/>
<polygon points="243.8,382.6 240.4,377.9 228.1,378.2 219.2,383.1 222.6,387.7 234.9,387.5" stroke-opacity="0.96" stroke-width="0.91"/>
<polygon points="259.4,387.0 256.0,382.3 243.8,382.6 234.9,387.5 238.3,392.2 250.5,391.9" stroke-opacity="0.90" stroke-width="0.91"/>
<polygon points="275.1,391.4 271.7,386.8 259.4,387.0 250.5,391.9 253.9,396.6 266.2,396.3" stroke-opacity="0.82" stroke-width="0.91"/>
<polygon points="290.7,395.9 287.3,391.2 275.1,391.4 266.2,396.3 269.6,401.0 281.8,400.8" stroke-opacity="0.72" stroke-width="0.91"/>
<polygon points="306.4,400.3 303.0,395.6 290.7,395.9 281.8,400.8 285.2,405.4 297.5,405.2" stroke-opacity="0.68" stroke-width="0.91"/>
<polygon points="322.0,404.7 318.6,400.0 306.4,400.3 297.5,405.2 300.9,409.9 313.1,409.6" stroke-opacity="0.64" stroke-width="0.91"/>
<polygon points="337.7,409.1 334.3,404.5 322.0,404.7 313.1,409.6 316.5,414.3 328.8,414.0" stroke-opacity="0.60" stroke-width="0.91"/>
<polygon points="353.3,413.6 349.9,408.9 337.7,409.1 328.8,414.0 332.2,418.7 344.4,418.5" stroke-opacity="0.56" stroke-width="0.91"/>
<polygon points="369.0,418.0 365.6,413.3 353.3,413.6 344.4,418.5 347.8,423.1 360.1,422.9" stroke-opacity="0.44" stroke-width="0.91"/>
<polygon points="384.6,422.4 381.2,417.7 369.0,418.0 360.1,422.9 363.5,427.6 375.7,427.3" stroke-opacity="0.34" stroke-width="0.91"/>
<polygon points="400.3,426.8 396.9,422.2 384.6,422.4 375.7,427.3 379.1,432.0 391.4,431.7" stroke-opacity="0.25" stroke-width="0.91"/>
<polygon points="415.9,431.3 412.5,426.6 400.3,426.8 391.4,431.7 394.8,436.4 407.0,436.2" stroke-opacity="0.17" stroke-width="0.91"/>
<polygon points="431.6,435.7 428.2,431.0 415.9,431.3 407.0,436.2 410.4,440.8 422.7,440.6" stroke-opacity="0.12" stroke-width="0.91"/>
<polygon points="447.2,440.1 443.8,435.4 431.6,435.7 422.7,440.6 426.1,445.3 438.3,445.0" stroke-opacity="0.07" stroke-width="0.91"/>
<polygon points="123.5,337.9 120.2,333.4 108.5,333.6 99.9,338.4 103.2,342.9 115.0,342.6" stroke-opacity="0.09" stroke-width="0.89"/>
<polygon points="138.5,342.2 135.3,337.7 123.5,337.9 115.0,342.6 118.2,347.1 130.0,346.9" stroke-opacity="0.16" stroke-width="0.89"/>
<polygon points="153.6,346.4 150.3,341.9 138.5,342.2 130.0,346.9 133.3,351.4 145.0,351.1" stroke-opacity="0.26" stroke-width="0.89"/>
<polygon points="168.6,350.7 165.4,346.2 153.6,346.4 145.0,351.1 148.3,355.6 160.1,355.4" stroke-opacity="0.37" stroke-width="0.89"/>
<polygon points="183.6,354.9 180.4,350.4 168.6,350.7 160.1,355.4 163.3,359.9 175.1,359.6" stroke-opacity="0.46" stroke-width="0.89"/>
<polygon points="198.7,359.2 195.4,354.7 183.6,354.9 175.1,359.6 178.4,364.1 190.2,363.9" stroke-opacity="0.56" stroke-width="0.89"/>
<polygon points="213.7,363.4 210.5,358.9 198.7,359.2 190.2,363.9 193.4,368.4 205.2,368.1" stroke-opacity="0.66" stroke-width="0.89"/>
<polygon points="228.8,367.7 225.5,363.2 213.7,363.4 205.2,368.1 208.4,372.6 220.2,372.4" stroke-opacity="0.76" stroke-width="0.89"/>
<polygon points="243.8,371.9 240.5,367.4 228.8,367.7 220.2,372.4 223.5,376.9 235.3,376.6" stroke-opacity="0.85" stroke-width="0.89"/>
<polygon points="258.8,376.2 255.6,371.7 243.8,371.9 235.3,376.6 238.5,381.1 250.3,380.9" stroke-opacity="0.92" stroke-width="0.89"/>
<polygon points="273.9,380.4 270.6,375.9 258.8,376.2 250.3,380.9 253.6,385.4 265.3,385.1" stroke-opacity="0.97" stroke-width="0.89"/>
<polygon points="288.9,384.7 285.6,380.2 273.9,380.4 265.3,385.1 268.6,389.6 280.4,389.4" stroke-opacity="1.00" stroke-width="0.89"/>
<polygon points="303.9,388.9 300.7,384.4 288.9,384.7 280.4,389.4 283.6,393.9 295.4,393.6" stroke-opacity="1.00" stroke-width="0.89"/>
<polygon points="319.0,393.2 315.7,388.7 303.9,388.9 295.4,393.6 298.7,398.1 310.4,397.9" stroke-opacity="1.00" stroke-width="0.89"/>
<polygon points="334.0,397.4 330.7,392.9 319.0,393.2 310.4,397.9 313.7,402.4 325.5,402.1" stroke-opacity="0.99" stroke-width="0.89"/>
<polygon points="349.0,401.7 345.8,397.2 334.0,397.4 325.5,402.1 328.7,406.6 340.5,406.4" stroke-opacity="0.98" stroke-width="0.89"/>
<polygon points="364.1,405.9 360.8,401.4 349.0,401.7 340.5,406.4 343.8,410.9 355.5,410.6" stroke-opacity="0.93" stroke-width="0.89"/>
<polygon points="379.1,410.2 375.8,405.7 364.1,405.9 355.5,410.6 358.8,415.1 370.6,414.9" stroke-opacity="0.85" stroke-width="0.89"/>
<polygon points="394.1,414.4 390.9,409.9 379.1,410.2 370.6,414.9 373.8,419.4 385.6,419.1" stroke-opacity="0.75" stroke-width="0.89"/>
<polygon points="409.2,418.7 405.9,414.2 394.1,414.4 385.6,419.1 388.9,423.6 400.7,423.4" stroke-opacity="0.64" stroke-width="0.89"/>
<polygon points="424.2,422.9 421.0,418.4 409.2,418.7 400.7,423.4 403.9,427.9 415.7,427.6" stroke-opacity="0.52" stroke-width="0.89"/>
<polygon points="439.2,427.2 436.0,422.7 424.2,422.9 415.7,427.6 418.9,432.1 430.7,431.9" stroke-opacity="0.41" stroke-width="0.89"/>
<polygon points="454.3,431.4 451.0,426.9 439.2,427.2 430.7,431.9 434.0,436.4 445.8,436.1" stroke-opacity="0.27" stroke-width="0.89"/>
<polygon points="157.4,337.2 154.3,332.9 143.0,333.2 134.8,337.7 137.9,342.0 149.2,341.8" stroke-opacity="0.06" stroke-width="0.87"/>
<polygon points="171.9,341.3 168.8,337.0 157.4,337.2 149.2,341.8 152.4,346.1 163.7,345.9" stroke-opacity="0.09" stroke-width="0.87"/>
<polygon points="186.3,345.4 183.2,341.1 171.9,341.3 163.7,345.9 166.8,350.2 178.1,349.9" stroke-opacity="0.13" stroke-width="0.87"/>
<polygon points="200.8,349.5 197.6,345.2 186.3,345.4 178.1,349.9 181.3,354.2 192.6,354.0" stroke-opacity="0.17" stroke-width="0.87"/>
<polygon points="215.2,353.6 212.1,349.3 200.8,349.5 192.6,354.0 195.7,358.3 207.0,358.1" stroke-opacity="0.23" stroke-width="0.87"/>
<polygon points="229.7,357.7 226.5,353.4 215.2,353.6 207.0,358.1 210.2,362.4 221.5,362.2" stroke-opacity="0.30" stroke-width="0.87"/>
<polygon points="244.1,361.7 241.0,357.4 229.7,357.7 221.5,362.2 224.6,366.5 235.9,366.3" stroke-opacity="0.39" stroke-width="0.87"/>
<polygon points="258.5,365.8 255.4,361.5 244.1,361.7 235.9,366.3 239.0,370.6 250.4,370.4" stroke-opacity="0.48" stroke-width="0.87"/>
<polygon points="273.0,369.9 269.9,365.6 258.5,365.8 250.4,370.4 253.5,374.7 264.8,374.4" stroke-opacity="0.58" stroke-width="0.87"/>
<polygon points="287.4,374.0 284.3,369.7 273.0,369.9 264.8,374.4 267.9,378.8 279.2,378.5" stroke-opacity="0.68" stroke-width="0.87"/>
<polygon points="301.9,378.1 298.8,373.8 287.4,374.0 279.2,378.5 282.4,382.8 293.7,382.6" stroke-opacity="0.73" stroke-width="0.87"/>
<polygon points="316.3,382.2 313.2,377.9 301.9,378.1 293.7,382.6 296.8,386.9 308.1,386.7" stroke-opacity="0.76" stroke-width="0.87"/>
<polygon points="330.8,386.2 327.6,381.9 316.3,382.2 308.1,386.7 311.3,391.0 322.6,390.8" stroke-opacity="0.79" stroke-width="0.87"/>
<polygon points="345.2,390.3 342.1,386.0 330.8,386.2 322.6,390.8 325.7,395.1 337.0,394.9" stroke-opacity="0.82" stroke-width="0.87"/>
<polygon points="359.7,394.4 356.5,390.1 345.2,390.3 337.0,394.9 340.2,399.2 351.5,399.0" stroke-opacity="0.88" stroke-width="0.87"/>
<polygon points="374.1,398.5 371.0,394.2 359.7,394.4 351.5,399.0 354.6,403.3 365.9,403.0" stroke-opacity="0.95" stroke-width="0.87"/>
<polygon points="388.6,402.6 385.4,398.3 374.1,398.5 365.9,403.0 369.0,407.3 380.4,407.1" stroke-opacity="0.99" stroke-width="0.87"/>
<polygon points="403.0,406.7 399.9,402.4 388.6,402.6 380.4,407.1 383.5,411.4 394.8,411.2" stroke-opacity="1.00" stroke-width="0.87"/>
<polygon points="417.4,410.8 414.3,406.4 403.0,406.7 394.8,411.2 397.9,415.5 409.3,415.3" stroke-opacity="0.97" stroke-width="0.87"/>
<polygon points="431.9,414.8 428.8,410.5 417.4,410.8 409.3,415.3 412.4,419.6 423.7,419.4" stroke-opacity="0.91" stroke-width="0.87"/>
<polygon points="446.3,418.9 443.2,414.6 431.9,414.8 423.7,419.4 426.8,423.7 438.1,423.5" stroke-opacity="0.78" stroke-width="0.87"/>
<polygon points="460.8,423.0 457.6,418.7 446.3,418.9 438.1,423.5 441.3,427.8 452.6,427.5" stroke-opacity="0.56" stroke-width="0.87"/>
<polygon points="475.2,427.1 472.1,422.8 460.8,423.0 452.6,427.5 455.7,431.8 467.0,431.6" stroke-opacity="0.35" stroke-width="0.87"/>
<polygon points="216.9,344.2 213.9,340.1 203.1,340.3 195.2,344.6 198.2,348.8 209.1,348.6" stroke-opacity="0.05" stroke-width="0.85"/>
<polygon points="230.8,348.1 227.8,344.0 216.9,344.2 209.1,348.6 212.1,352.7 222.9,352.5" stroke-opacity="0.07" stroke-width="0.85"/>
<polygon points="244.7,352.1 241.7,347.9 230.8,348.1 222.9,352.5 226.0,356.6 236.8,356.4" stroke-opacity="0.10" stroke-width="0.85"/>
<polygon points="258.6,356.0 255.6,351.8 244.7,352.1 236.8,356.4 239.8,360.6 250.7,360.3" stroke-opacity="0.14" stroke-width="0.85"/>
<polygon points="272.4,359.9 269.4,355.8 258.6,356.0 250.7,360.3 253.7,364.5 264.6,364.3" stroke-opacity="0.19" stroke-width="0.85"/>
<polygon points="286.3,363.8 283.3,359.7 272.4,359.9 264.6,364.3 267.6,368.4 278.5,368.2" stroke-opacity="0.25" stroke-width="0.85"/>
<polygon points="300.2,367.8 297.2,363.6 286.3,363.8 278.5,368.2 281.5,372.3 292.3,372.1" stroke-opacity="0.28" stroke-width="0.85"/>
<polygon points="314.1,371.7 311.1,367.5 300.2,367.8 292.3,372.1 295.3,376.2 306.2,376.0" stroke-opacity="0.31" stroke-width="0.85"/>
<polygon points="328.0,375.6 325.0,371.5 314.1,371.7 306.2,376.0 309.2,380.2 320.1,380.0" stroke-opacity="0.33" stroke-width="0.85"/>
<polygon points="341.8,379.5 338.8,375.4 328.0,375.6 320.1,380.0 323.1,384.1 334.0,383.9" stroke-opacity="0.36" stroke-width="0.85"/>
<polygon points="355.7,383.4 352.7,379.3 341.8,379.5 334.0,383.9 337.0,388.0 347.8,387.8" stroke-opacity="0.41" stroke-width="0.85"/>
<polygon points="369.6,387.4 366.6,383.2 355.7,383.4 347.8,387.8 350.8,391.9 361.7,391.7" stroke-opacity="0.52" stroke-width="0.85"/>
<polygon points="383.5,391.3 380.5,387.2 369.6,387.4 361.7,391.7 364.7,395.9 375.6,395.7" stroke-opacity="0.62" stroke-width="0.85"/>
<polygon points="397.3,395.2 394.3,391.1 383.5,391.3 375.6,395.7 378.6,399.8 389.5,399.6" stroke-opacity="0.73" stroke-width="0.85"/>
<polygon points="411.2,399.1 408.2,395.0 397.3,395.2 389.5,399.6 392.5,403.7 403.4,403.5" stroke-opacity="0.83" stroke-width="0.85"/>
<polygon points="425.1,403.1 422.1,398.9 411.2,399.1 403.4,403.5 406.4,407.6 417.2,407.4" stroke-opacity="0.91" stroke-width="0.85"/>
<polygon points="439.0,407.0 436.0,402.9 425.1,403.1 417.2,407.4 420.2,411.6 431.1,411.3" stroke-opacity="0.97" stroke-width="0.85"/>
<polygon points="452.9,410.9 449.8,406.8 439.0,407.0 431.1,411.3 434.1,415.5 445.0,415.3" stroke-opacity="0.86" stroke-width="0.85"/>
<polygon points="466.7,414.8 463.7,410.7 452.9,410.9 445.0,415.3 448.0,419.4 458.9,419.2" stroke-opacity="0.71" stroke-width="0.85"/>
<polygon points="480.6,418.8 477.6,414.6 466.7,414.8 458.9,419.2 461.9,423.3 472.7,423.1" stroke-opacity="0.52" stroke-width="0.85"/>
<polygon points="285.5,354.1 282.6,350.2 272.2,350.4 264.6,354.6 267.5,358.5 278.0,358.3" stroke-opacity="0.05" stroke-width="0.83"/>
<polygon points="298.9,357.9 296.0,353.9 285.5,354.1 278.0,358.3 280.9,362.3 291.3,362.1" stroke-opacity="0.06" stroke-width="0.83"/>
<polygon points="312.2,361.7 309.3,357.7 298.9,357.9 291.3,362.1 294.2,366.1 304.6,365.9" stroke-opacity="0.07" stroke-width="0.83"/>
<polygon points="325.5,365.4 322.6,361.5 312.2,361.7 304.6,365.9 307.5,369.8 318.0,369.6" stroke-opacity="0.08" stroke-width="0.83"/>
<polygon points="338.9,369.2 336.0,365.2 325.5,365.4 318.0,369.6 320.9,373.6 331.3,373.4" stroke-opacity="0.09" stroke-width="0.83"/>
<polygon points="352.2,373.0 349.3,369.0 338.9,369.2 331.3,373.4 334.2,377.4 344.6,377.2" stroke-opacity="0.11" stroke-width="0.83"/>
<polygon points="365.5,376.8 362.6,372.8 352.2,373.0 344.6,377.2 347.5,381.1 358.0,380.9" stroke-opacity="0.15" stroke-width="0.83"/>
<polygon points="378.9,380.5 376.0,376.5 365.5,376.8 358.0,380.9 360.8,384.9 371.3,384.7" stroke-opacity="0.20" stroke-width="0.83"/>
<polygon points="392.2,384.3 389.3,380.3 378.9,380.5 371.3,384.7 374.2,388.7 384.6,388.5" stroke-opacity="0.27" stroke-width="0.83"/>
<polygon points="405.5,388.1 402.6,384.1 392.2,384.3 384.6,388.5 387.5,392.5 398.0,392.2" stroke-opacity="0.35" stroke-width="0.83"/>
<polygon points="418.8,391.8 416.0,387.9 405.5,388.1 398.0,392.2 400.8,396.2 411.3,396.0" stroke-opacity="0.45" stroke-width="0.83"/>
<polygon points="432.2,395.6 429.3,391.6 418.8,391.8 411.3,396.0 414.2,400.0 424.6,399.8" stroke-opacity="0.55" stroke-width="0.83"/>
<polygon points="445.5,399.4 442.6,395.4 432.2,395.6 424.6,399.8 427.5,403.8 438.0,403.6" stroke-opacity="0.61" stroke-width="0.83"/>
<polygon points="458.8,403.1 456.0,399.2 445.5,399.4 438.0,403.6 440.8,407.5 451.3,407.3" stroke-opacity="0.61" stroke-width="0.83"/>
<polygon points="472.2,406.9 469.3,402.9 458.8,403.1 451.3,407.3 454.2,411.3 464.6,411.1" stroke-opacity="0.57" stroke-width="0.83"/>
<polygon points="485.5,410.7 482.6,406.7 472.2,406.9 464.6,411.1 467.5,415.1 478.0,414.9" stroke-opacity="0.48" stroke-width="0.83"/>
<polygon points="498.8,414.5 496.0,410.5 485.5,410.7 478.0,414.9 480.8,418.8 491.3,418.6" stroke-opacity="0.35" stroke-width="0.83"/>
<polygon points="387.5,373.9 384.7,370.1 374.7,370.3 367.4,374.3 370.2,378.1 380.2,377.9" stroke-opacity="0.06" stroke-width="0.81"/>
<polygon points="400.3,377.5 397.5,373.7 387.5,373.9 380.2,377.9 383.0,381.7 393.0,381.5" stroke-opacity="0.08" stroke-width="0.81"/>
<polygon points="413.1,381.1 410.3,377.3 400.3,377.5 393.0,381.5 395.8,385.3 405.8,385.1" stroke-opacity="0.12" stroke-width="0.81"/>
<polygon points="425.9,384.7 423.1,380.9 413.1,381.1 405.8,385.1 408.6,389.0 418.7,388.8" stroke-opacity="0.16" stroke-width="0.81"/>
<polygon points="438.7,388.4 436.0,384.5 425.9,384.7 418.7,388.8 421.4,392.6 431.5,392.4" stroke-opacity="0.22" stroke-width="0.81"/>
<polygon points="451.5,392.0 448.8,388.2 438.7,388.4 431.5,392.4 434.2,396.2 444.3,396.0" stroke-opacity="0.26" stroke-width="0.81"/>
<polygon points="464.3,395.6 461.6,391.8 451.5,392.0 444.3,396.0 447.0,399.8 457.1,399.6" stroke-opacity="0.29" stroke-width="0.81"/>
<polygon points="477.2,399.2 474.4,395.4 464.3,395.6 457.1,399.6 459.9,403.4 469.9,403.2" stroke-opacity="0.30" stroke-width="0.81"/>
<polygon points="490.0,402.8 487.2,399.0 477.2,399.2 469.9,403.2 472.7,407.1 482.7,406.9" stroke-opacity="0.29" stroke-width="0.81"/>
<polygon points="502.8,406.5 500.0,402.6 490.0,402.8 482.7,406.9 485.5,410.7 495.5,410.5" stroke-opacity="0.23" stroke-width="0.81"/>
<polygon points="432.5,377.9 429.8,374.2 420.2,374.4 413.2,378.2 415.8,381.9 425.5,381.7" stroke-opacity="0.04" stroke-width="0.79"/>
<polygon points="444.8,381.3 442.1,377.7 432.5,377.9 425.5,381.7 428.1,385.4 437.8,385.2" stroke-opacity="0.06" stroke-width="0.79"/>
<polygon points="457.1,384.8 454.4,381.1 444.8,381.3 437.8,385.2 440.5,388.9 450.1,388.7" stroke-opacity="0.08" stroke-width="0.79"/>
<polygon points="469.4,388.3 466.7,384.6 457.1,384.8 450.1,388.7 452.8,392.3 462.4,392.2" stroke-opacity="0.10" stroke-width="0.79"/>
<polygon points="481.7,391.8 479.0,388.1 469.4,388.3 462.4,392.2 465.1,395.8 474.7,395.6" stroke-opacity="0.11" stroke-width="0.79"/>
<polygon points="494.0,395.2 491.3,391.6 481.7,391.8 474.7,395.6 477.4,399.3 487.0,399.1" stroke-opacity="0.12" stroke-width="0.79"/>
<polygon points="506.3,398.7 503.6,395.1 494.0,395.2 487.0,399.1 489.7,402.8 499.3,402.6" stroke-opacity="0.10" stroke-width="0.79"/>
<polygon points="518.6,402.2 515.9,398.5 506.3,398.7 499.3,402.6 502.0,406.3 511.6,406.1" stroke-opacity="0.06" stroke-width="0.79"/>
</g>
<g fill="#7ffff4" filter="url(#blur1)">
<circle cx="32.4" cy="396.7" r="1.6" fill-opacity="0.50"/>
<circle cx="12.5" cy="391.0" r="1.6" fill-opacity="0.50"/>
<circle cx="5.5" cy="403.2" r="1.6" fill-opacity="0.50"/>
<circle cx="38.6" cy="384.9" r="1.6" fill-opacity="0.95"/>
<circle cx="19.5" cy="379.5" r="1.6" fill-opacity="0.95"/>
<circle cx="12.8" cy="391.2" r="1.6" fill-opacity="0.95"/>
<circle cx="57.8" cy="390.3" r="1.6" fill-opacity="0.54"/>
<circle cx="38.6" cy="384.9" r="1.6" fill-opacity="0.54"/>
<circle cx="31.9" cy="396.6" r="1.6" fill-opacity="0.54"/>
<circle cx="63.4" cy="378.8" r="1.6" fill-opacity="0.95"/>
<circle cx="45.1" cy="373.6" r="1.6" fill-opacity="0.95"/>
<circle cx="38.6" cy="384.9" r="1.6" fill-opacity="0.95"/>
<circle cx="81.8" cy="384.0" r="1.6" fill-opacity="0.55"/>
<circle cx="63.4" cy="378.8" r="1.6" fill-opacity="0.55"/>
<circle cx="57.0" cy="390.1" r="1.6" fill-opacity="0.55"/>
<circle cx="69.2" cy="367.9" r="1.6" fill-opacity="0.92"/>
<circle cx="51.6" cy="363.0" r="1.6" fill-opacity="0.92"/>
<circle cx="45.4" cy="373.8" r="1.6" fill-opacity="0.92"/>
<circle cx="86.9" cy="372.9" r="1.6" fill-opacity="0.95"/>
<circle cx="69.2" cy="367.9" r="1.6" fill-opacity="0.95"/>
<circle cx="63.0" cy="378.7" r="1.6" fill-opacity="0.95"/>
<circle cx="104.5" cy="377.9" r="1.6" fill-opacity="0.59"/>
<circle cx="86.9" cy="372.9" r="1.6" fill-opacity="0.59"/>
<circle cx="80.7" cy="383.7" r="1.6" fill-opacity="0.59"/>
<circle cx="122.2" cy="382.9" r="1.6" fill-opacity="0.40"/>
<circle cx="104.5" cy="377.9" r="1.6" fill-opacity="0.40"/>
<circle cx="98.3" cy="388.7" r="1.6" fill-opacity="0.40"/>
<circle cx="92.1" cy="362.4" r="1.6" fill-opacity="0.92"/>
<circle cx="75.1" cy="357.6" r="1.6" fill-opacity="0.92"/>
<circle cx="69.2" cy="368.0" r="1.6" fill-opacity="0.92"/>
<circle cx="109.1" cy="367.2" r="1.6" fill-opacity="0.99"/>
<circle cx="92.1" cy="362.4" r="1.6" fill-opacity="0.99"/>
<circle cx="86.2" cy="372.8" r="1.6" fill-opacity="0.99"/>
<circle cx="126.0" cy="372.0" r="1.6" fill-opacity="0.89"/>
<circle cx="109.1" cy="367.2" r="1.6" fill-opacity="0.89"/>
<circle cx="103.1" cy="377.5" r="1.6" fill-opacity="0.89"/>
<circle cx="143.0" cy="376.8" r="1.6" fill-opacity="0.73"/>
<circle cx="126.0" cy="372.0" r="1.6" fill-opacity="0.73"/>
<circle cx="120.1" cy="382.3" r="1.6" fill-opacity="0.73"/>
<circle cx="159.9" cy="381.5" r="1.6" fill-opacity="0.55"/>
<circle cx="143.0" cy="376.8" r="1.6" fill-opacity="0.55"/>
<circle cx="137.0" cy="387.1" r="1.6" fill-opacity="0.55"/>
<circle cx="176.9" cy="386.3" r="1.6" fill-opacity="0.42"/>
<circle cx="159.9" cy="381.5" r="1.6" fill-opacity="0.42"/>
<circle cx="154.0" cy="391.9" r="1.6" fill-opacity="0.42"/>
<circle cx="193.8" cy="391.1" r="1.6" fill-opacity="0.32"/>
<circle cx="176.9" cy="386.3" r="1.6" fill-opacity="0.32"/>
<circle cx="170.9" cy="396.7" r="1.6" fill-opacity="0.32"/>
<circle cx="97.5" cy="352.3" r="1.6" fill-opacity="0.56"/>
<circle cx="81.2" cy="347.7" r="1.6" fill-opacity="0.56"/>
<circle cx="75.5" cy="357.7" r="1.6" fill-opacity="0.56"/>
<circle cx="113.7" cy="356.9" r="1.6" fill-opacity="0.81"/>
<circle cx="97.5" cy="352.3" r="1.6" fill-opacity="0.81"/>
<circle cx="91.7" cy="362.3" r="1.6" fill-opacity="0.81"/>
<circle cx="130.0" cy="361.5" r="1.6" fill-opacity="0.94"/>
<circle cx="113.7" cy="356.9" r="1.6" fill-opacity="0.94"/>
<circle cx="108.0" cy="366.9" r="1.6" fill-opacity="0.94"/>
<circle cx="146.3" cy="366.1" r="1.6" fill-opacity="1.00"/>
<circle cx="130.0" cy="361.5" r="1.6" fill-opacity="1.00"/>
<circle cx="124.3" cy="371.5" r="1.6" fill-opacity="1.00"/>
<circle cx="162.6" cy="370.7" r="1.6" fill-opacity="0.97"/>
<circle cx="146.3" cy="366.1" r="1.6" fill-opacity="0.97"/>
<circle cx="140.6" cy="376.1" r="1.6" fill-opacity="0.97"/>
<circle cx="178.9" cy="375.3" r="1.6" fill-opacity="0.92"/>
<circle cx="162.6" cy="370.7" r="1.6" fill-opacity="0.92"/>
<circle cx="156.9" cy="380.7" r="1.6" fill-opacity="0.92"/>
<circle cx="195.2" cy="380.0" r="1.6" fill-opacity="0.83"/>
<circle cx="178.9" cy="375.3" r="1.6" fill-opacity="0.83"/>
<circle cx="173.2" cy="385.3" r="1.6" fill-opacity="0.83"/>
<circle cx="211.5" cy="384.6" r="1.6" fill-opacity="0.73"/>
<circle cx="195.2" cy="380.0" r="1.6" fill-opacity="0.73"/>
<circle cx="189.5" cy="389.9" r="1.6" fill-opacity="0.73"/>
<circle cx="227.8" cy="389.2" r="1.6" fill-opacity="0.62"/>
<circle cx="211.5" cy="384.6" r="1.6" fill-opacity="0.62"/>
<circle cx="205.8" cy="394.5" r="1.6" fill-opacity="0.62"/>
<circle cx="244.1" cy="393.8" r="1.6" fill-opacity="0.51"/>
<circle cx="227.8" cy="389.2" r="1.6" fill-opacity="0.51"/>
<circle cx="222.1" cy="399.1" r="1.6" fill-opacity="0.51"/>
<circle cx="260.3" cy="398.4" r="1.6" fill-opacity="0.41"/>
<circle cx="244.1" cy="393.8" r="1.6" fill-opacity="0.41"/>
<circle cx="238.4" cy="403.7" r="1.6" fill-opacity="0.41"/>
<circle cx="276.6" cy="403.0" r="1.6" fill-opacity="0.31"/>
<circle cx="260.3" cy="398.4" r="1.6" fill-opacity="0.31"/>
<circle cx="254.6" cy="408.4" r="1.6" fill-opacity="0.31"/>
<circle cx="118.6" cy="347.2" r="1.6" fill-opacity="0.35"/>
<circle cx="102.9" cy="342.8" r="1.6" fill-opacity="0.35"/>
<circle cx="97.4" cy="352.3" r="1.6" fill-opacity="0.35"/>
<circle cx="134.2" cy="351.6" r="1.6" fill-opacity="0.51"/>
<circle cx="118.6" cy="347.2" r="1.6" fill-opacity="0.51"/>
<circle cx="113.1" cy="356.8" r="1.6" fill-opacity="0.51"/>
<circle cx="149.9" cy="356.0" r="1.6" fill-opacity="0.68"/>
<circle cx="134.2" cy="351.6" r="1.6" fill-opacity="0.68"/>
<circle cx="128.7" cy="361.2" r="1.6" fill-opacity="0.68"/>
<circle cx="165.5" cy="360.5" r="1.6" fill-opacity="0.83"/>
<circle cx="149.9" cy="356.0" r="1.6" fill-opacity="0.83"/>
<circle cx="144.4" cy="365.6" r="1.6" fill-opacity="0.83"/>
<circle cx="181.2" cy="364.9" r="1.6" fill-opacity="0.91"/>
<circle cx="165.5" cy="360.5" r="1.6" fill-opacity="0.91"/>
<circle cx="160.0" cy="370.0" r="1.6" fill-opacity="0.91"/>
<circle cx="196.8" cy="369.3" r="1.6" fill-opacity="0.97"/>
<circle cx="181.2" cy="364.9" r="1.6" fill-opacity="0.97"/>
<circle cx="175.7" cy="374.5" r="1.6" fill-opacity="0.97"/>
<circle cx="212.5" cy="373.7" r="1.6" fill-opacity="1.00"/>
<circle cx="196.8" cy="369.3" r="1.6" fill-opacity="1.00"/>
<circle cx="191.3" cy="378.9" r="1.6" fill-opacity="1.00"/>
<circle cx="228.1" cy="378.2" r="1.6" fill-opacity="1.00"/>
<circle cx="212.5" cy="373.7" r="1.6" fill-opacity="1.00"/>
<circle cx="207.0" cy="383.3" r="1.6" fill-opacity="1.00"/>
<circle cx="243.8" cy="382.6" r="1.6" fill-opacity="0.96"/>
<circle cx="228.1" cy="378.2" r="1.6" fill-opacity="0.96"/>
<circle cx="222.6" cy="387.7" r="1.6" fill-opacity="0.96"/>
<circle cx="259.4" cy="387.0" r="1.6" fill-opacity="0.90"/>
<circle cx="243.8" cy="382.6" r="1.6" fill-opacity="0.90"/>
<circle cx="238.3" cy="392.2" r="1.6" fill-opacity="0.90"/>
<circle cx="275.1" cy="391.4" r="1.6" fill-opacity="0.82"/>
<circle cx="259.4" cy="387.0" r="1.6" fill-opacity="0.82"/>
<circle cx="253.9" cy="396.6" r="1.6" fill-opacity="0.82"/>
<circle cx="290.7" cy="395.9" r="1.6" fill-opacity="0.72"/>
<circle cx="275.1" cy="391.4" r="1.6" fill-opacity="0.72"/>
<circle cx="269.6" cy="401.0" r="1.6" fill-opacity="0.72"/>
<circle cx="306.4" cy="400.3" r="1.6" fill-opacity="0.68"/>
<circle cx="290.7" cy="395.9" r="1.6" fill-opacity="0.68"/>
<circle cx="285.2" cy="405.4" r="1.6" fill-opacity="0.68"/>
<circle cx="322.0" cy="404.7" r="1.6" fill-opacity="0.64"/>
<circle cx="306.4" cy="400.3" r="1.6" fill-opacity="0.64"/>
<circle cx="300.9" cy="409.9" r="1.6" fill-opacity="0.64"/>
<circle cx="337.7" cy="409.1" r="1.6" fill-opacity="0.60"/>
<circle cx="322.0" cy="404.7" r="1.6" fill-opacity="0.60"/>
<circle cx="316.5" cy="414.3" r="1.6" fill-opacity="0.60"/>
<circle cx="353.3" cy="413.6" r="1.6" fill-opacity="0.56"/>
<circle cx="337.7" cy="409.1" r="1.6" fill-opacity="0.56"/>
<circle cx="332.2" cy="418.7" r="1.6" fill-opacity="0.56"/>
<circle cx="369.0" cy="418.0" r="1.6" fill-opacity="0.44"/>
<circle cx="353.3" cy="413.6" r="1.6" fill-opacity="0.44"/>
<circle cx="347.8" cy="423.1" r="1.6" fill-opacity="0.44"/>
<circle cx="384.6" cy="422.4" r="1.6" fill-opacity="0.34"/>
<circle cx="369.0" cy="418.0" r="1.6" fill-opacity="0.34"/>
<circle cx="363.5" cy="427.6" r="1.6" fill-opacity="0.34"/>
<circle cx="168.6" cy="350.7" r="1.6" fill-opacity="0.37"/>
<circle cx="153.6" cy="346.4" r="1.6" fill-opacity="0.37"/>
<circle cx="148.3" cy="355.6" r="1.6" fill-opacity="0.37"/>
<circle cx="183.6" cy="354.9" r="1.6" fill-opacity="0.46"/>
<circle cx="168.6" cy="350.7" r="1.6" fill-opacity="0.46"/>
<circle cx="163.3" cy="359.9" r="1.6" fill-opacity="0.46"/>
<circle cx="198.7" cy="359.2" r="1.6" fill-opacity="0.56"/>
<circle cx="183.6" cy="354.9" r="1.6" fill-opacity="0.56"/>
<circle cx="178.4" cy="364.1" r="1.6" fill-opacity="0.56"/>
<circle cx="213.7" cy="363.4" r="1.6" fill-opacity="0.66"/>
<circle cx="198.7" cy="359.2" r="1.6" fill-opacity="0.66"/>
<circle cx="193.4" cy="368.4" r="1.6" fill-opacity="0.66"/>
<circle cx="228.8" cy="367.7" r="1.6" fill-opacity="0.76"/>
<circle cx="213.7" cy="363.4" r="1.6" fill-opacity="0.76"/>
<circle cx="208.4" cy="372.6" r="1.6" fill-opacity="0.76"/>
<circle cx="243.8" cy="371.9" r="1.6" fill-opacity="0.85"/>
<circle cx="228.8" cy="367.7" r="1.6" fill-opacity="0.85"/>
<circle cx="223.5" cy="376.9" r="1.6" fill-opacity="0.85"/>
<circle cx="258.8" cy="376.2" r="1.6" fill-opacity="0.92"/>
<circle cx="243.8" cy="371.9" r="1.6" fill-opacity="0.92"/>
<circle cx="238.5" cy="381.1" r="1.6" fill-opacity="0.92"/>
<circle cx="273.9" cy="380.4" r="1.6" fill-opacity="0.97"/>
<circle cx="258.8" cy="376.2" r="1.6" fill-opacity="0.97"/>
<circle cx="253.6" cy="385.4" r="1.6" fill-opacity="0.97"/>
<circle cx="288.9" cy="384.7" r="1.6" fill-opacity="1.00"/>
<circle cx="273.9" cy="380.4" r="1.6" fill-opacity="1.00"/>
<circle cx="268.6" cy="389.6" r="1.6" fill-opacity="1.00"/>
<circle cx="303.9" cy="388.9" r="1.6" fill-opacity="1.00"/>
<circle cx="288.9" cy="384.7" r="1.6" fill-opacity="1.00"/>
<circle cx="283.6" cy="393.9" r="1.6" fill-opacity="1.00"/>
<circle cx="319.0" cy="393.2" r="1.6" fill-opacity="1.00"/>
<circle cx="303.9" cy="388.9" r="1.6" fill-opacity="1.00"/>
<circle cx="298.7" cy="398.1" r="1.6" fill-opacity="1.00"/>
<circle cx="334.0" cy="397.4" r="1.6" fill-opacity="0.99"/>
<circle cx="319.0" cy="393.2" r="1.6" fill-opacity="0.99"/>
<circle cx="313.7" cy="402.4" r="1.6" fill-opacity="0.99"/>
<circle cx="349.0" cy="401.7" r="1.6" fill-opacity="0.98"/>
<circle cx="334.0" cy="397.4" r="1.6" fill-opacity="0.98"/>
<circle cx="328.7" cy="406.6" r="1.6" fill-opacity="0.98"/>
<circle cx="364.1" cy="405.9" r="1.6" fill-opacity="0.93"/>
<circle cx="349.0" cy="401.7" r="1.6" fill-opacity="0.93"/>
<circle cx="343.8" cy="410.9" r="1.6" fill-opacity="0.93"/>
<circle cx="379.1" cy="410.2" r="1.6" fill-opacity="0.85"/>
<circle cx="364.1" cy="405.9" r="1.6" fill-opacity="0.85"/>
<circle cx="358.8" cy="415.1" r="1.6" fill-opacity="0.85"/>
<circle cx="394.1" cy="414.4" r="1.6" fill-opacity="0.75"/>
<circle cx="379.1" cy="410.2" r="1.6" fill-opacity="0.75"/>
<circle cx="373.8" cy="419.4" r="1.6" fill-opacity="0.75"/>
<circle cx="409.2" cy="418.7" r="1.6" fill-opacity="0.64"/>
<circle cx="394.1" cy="414.4" r="1.6" fill-opacity="0.64"/>
<circle cx="388.9" cy="423.6" r="1.6" fill-opacity="0.64"/>
<circle cx="424.2" cy="422.9" r="1.6" fill-opacity="0.52"/>
<circle cx="409.2" cy="418.7" r="1.6" fill-opacity="0.52"/>
<circle cx="403.9" cy="427.9" r="1.6" fill-opacity="0.52"/>
<circle cx="439.2" cy="427.2" r="1.6" fill-opacity="0.41"/>
<circle cx="424.2" cy="422.9" r="1.6" fill-opacity="0.41"/>
<circle cx="418.9" cy="432.1" r="1.6" fill-opacity="0.41"/>
<circle cx="229.7" cy="357.7" r="1.6" fill-opacity="0.30"/>
<circle cx="215.2" cy="353.6" r="1.6" fill-opacity="0.30"/>
<circle cx="210.2" cy="362.4" r="1.6" fill-opacity="0.30"/>
<circle cx="244.1" cy="361.7" r="1.6" fill-opacity="0.39"/>
<circle cx="229.7" cy="357.7" r="1.6" fill-opacity="0.39"/>
<circle cx="224.6" cy="366.5" r="1.6" fill-opacity="0.39"/>
<circle cx="258.5" cy="365.8" r="1.6" fill-opacity="0.48"/>
<circle cx="244.1" cy="361.7" r="1.6" fill-opacity="0.48"/>
<circle cx="239.0" cy="370.6" r="1.6" fill-opacity="0.48"/>
<circle cx="273.0" cy="369.9" r="1.6" fill-opacity="0.58"/>
<circle cx="258.5" cy="365.8" r="1.6" fill-opacity="0.58"/>
<circle cx="253.5" cy="374.7" r="1.6" fill-opacity="0.58"/>
<circle cx="287.4" cy="374.0" r="1.6" fill-opacity="0.68"/>
<circle cx="273.0" cy="369.9" r="1.6" fill-opacity="0.68"/>
<circle cx="267.9" cy="378.8" r="1.6" fill-opacity="0.68"/>
<circle cx="301.9" cy="378.1" r="1.6" fill-opacity="0.73"/>
<circle cx="287.4" cy="374.0" r="1.6" fill-opacity="0.73"/>
<circle cx="282.4" cy="382.8" r="1.6" fill-opacity="0.73"/>
<circle cx="316.3" cy="382.2" r="1.6" fill-opacity="0.76"/>
<circle cx="301.9" cy="378.1" r="1.6" fill-opacity="0.76"/>
<circle cx="296.8" cy="386.9" r="1.6" fill-opacity="0.76"/>
<circle cx="330.8" cy="386.2" r="1.6" fill-opacity="0.79"/>
<circle cx="316.3" cy="382.2" r="1.6" fill-opacity="0.79"/>
<circle cx="311.3" cy="391.0" r="1.6" fill-opacity="0.79"/>
<circle cx="345.2" cy="390.3" r="1.6" fill-opacity="0.82"/>
<circle cx="330.8" cy="386.2" r="1.6" fill-opacity="0.82"/>
<circle cx="325.7" cy="395.1" r="1.6" fill-opacity="0.82"/>
<circle cx="359.7" cy="394.4" r="1.6" fill-opacity="0.88"/>
<circle cx="345.2" cy="390.3" r="1.6" fill-opacity="0.88"/>
<circle cx="340.2" cy="399.2" r="1.6" fill-opacity="0.88"/>
<circle cx="374.1" cy="398.5" r="1.6" fill-opacity="0.95"/>
<circle cx="359.7" cy="394.4" r="1.6" fill-opacity="0.95"/>
<circle cx="354.6" cy="403.3" r="1.6" fill-opacity="0.95"/>
<circle cx="388.6" cy="402.6" r="1.6" fill-opacity="0.99"/>
<circle cx="374.1" cy="398.5" r="1.6" fill-opacity="0.99"/>
<circle cx="369.0" cy="407.3" r="1.6" fill-opacity="0.99"/>
<circle cx="403.0" cy="406.7" r="1.6" fill-opacity="1.00"/>
<circle cx="388.6" cy="402.6" r="1.6" fill-opacity="1.00"/>
<circle cx="383.5" cy="411.4" r="1.6" fill-opacity="1.00"/>
<circle cx="417.4" cy="410.8" r="1.6" fill-opacity="0.97"/>
<circle cx="403.0" cy="406.7" r="1.6" fill-opacity="0.97"/>
<circle cx="397.9" cy="415.5" r="1.6" fill-opacity="0.97"/>
<circle cx="431.9" cy="414.8" r="1.6" fill-opacity="0.91"/>
<circle cx="417.4" cy="410.8" r="1.6" fill-opacity="0.91"/>
<circle cx="412.4" cy="419.6" r="1.6" fill-opacity="0.91"/>
<circle cx="446.3" cy="418.9" r="1.6" fill-opacity="0.78"/>
<circle cx="431.9" cy="414.8" r="1.6" fill-opacity="0.78"/>
<circle cx="426.8" cy="423.7" r="1.6" fill-opacity="0.78"/>
<circle cx="460.8" cy="423.0" r="1.6" fill-opacity="0.56"/>
<circle cx="446.3" cy="418.9" r="1.6" fill-opacity="0.56"/>
<circle cx="441.3" cy="427.8" r="1.6" fill-opacity="0.56"/>
<circle cx="475.2" cy="427.1" r="1.6" fill-opacity="0.35"/>
<circle cx="460.8" cy="423.0" r="1.6" fill-opacity="0.35"/>
<circle cx="455.7" cy="431.8" r="1.6" fill-opacity="0.35"/>
<circle cx="314.1" cy="371.7" r="1.6" fill-opacity="0.31"/>
<circle cx="300.2" cy="367.8" r="1.6" fill-opacity="0.31"/>
<circle cx="295.3" cy="376.2" r="1.6" fill-opacity="0.31"/>
<circle cx="328.0" cy="375.6" r="1.6" fill-opacity="0.33"/>
<circle cx="314.1" cy="371.7" r="1.6" fill-opacity="0.33"/>
<circle cx="309.2" cy="380.2" r="1.6" fill-opacity="0.33"/>
<circle cx="341.8" cy="379.5" r="1.6" fill-opacity="0.36"/>
<circle cx="328.0" cy="375.6" r="1.6" fill-opacity="0.36"/>
<circle cx="323.1" cy="384.1" r="1.6" fill-opacity="0.36"/>
<circle cx="355.7" cy="383.4" r="1.6" fill-opacity="0.41"/>
<circle cx="341.8" cy="379.5" r="1.6" fill-opacity="0.41"/>
<circle cx="337.0" cy="388.0" r="1.6" fill-opacity="0.41"/>
<circle cx="369.6" cy="387.4" r="1.6" fill-opacity="0.52"/>
<circle cx="355.7" cy="383.4" r="1.6" fill-opacity="0.52"/>
<circle cx="350.8" cy="391.9" r="1.6" fill-opacity="0.52"/>
<circle cx="383.5" cy="391.3" r="1.6" fill-opacity="0.62"/>
<circle cx="369.6" cy="387.4" r="1.6" fill-opacity="0.62"/>
<circle cx="364.7" cy="395.9" r="1.6" fill-opacity="0.62"/>
<circle cx="397.3" cy="395.2" r="1.6" fill-opacity="0.73"/>
<circle cx="383.5" cy="391.3" r="1.6" fill-opacity="0.73"/>
<circle cx="378.6" cy="399.8" r="1.6" fill-opacity="0.73"/>
<circle cx="411.2" cy="399.1" r="1.6" fill-opacity="0.83"/>
<circle cx="397.3" cy="395.2" r="1.6" fill-opacity="0.83"/>
<circle cx="392.5" cy="403.7" r="1.6" fill-opacity="0.83"/>
<circle cx="425.1" cy="403.1" r="1.6" fill-opacity="0.91"/>
<circle cx="411.2" cy="399.1" r="1.6" fill-opacity="0.91"/>
<circle cx="406.4" cy="407.6" r="1.6" fill-opacity="0.91"/>
<circle cx="439.0" cy="407.0" r="1.6" fill-opacity="0.97"/>
<circle cx="425.1" cy="403.1" r="1.6" fill-opacity="0.97"/>
<circle cx="420.2" cy="411.6" r="1.6" fill-opacity="0.97"/>
<circle cx="452.9" cy="410.9" r="1.6" fill-opacity="0.86"/>
<circle cx="439.0" cy="407.0" r="1.6" fill-opacity="0.86"/>
<circle cx="434.1" cy="415.5" r="1.6" fill-opacity="0.86"/>
<circle cx="466.7" cy="414.8" r="1.6" fill-opacity="0.71"/>
<circle cx="452.9" cy="410.9" r="1.6" fill-opacity="0.71"/>
<circle cx="448.0" cy="419.4" r="1.6" fill-opacity="0.71"/>
<circle cx="480.6" cy="418.8" r="1.6" fill-opacity="0.52"/>
<circle cx="466.7" cy="414.8" r="1.6" fill-opacity="0.52"/>
<circle cx="461.9" cy="423.3" r="1.6" fill-opacity="0.52"/>
<circle cx="405.5" cy="388.1" r="1.6" fill-opacity="0.35"/>
<circle cx="392.2" cy="384.3" r="1.6" fill-opacity="0.35"/>
<circle cx="387.5" cy="392.5" r="1.6" fill-opacity="0.35"/>
<circle cx="418.8" cy="391.8" r="1.6" fill-opacity="0.45"/>
<circle cx="405.5" cy="388.1" r="1.6" fill-opacity="0.45"/>
<circle cx="400.8" cy="396.2" r="1.6" fill-opacity="0.45"/>
<circle cx="432.2" cy="395.6" r="1.6" fill-opacity="0.55"/>
<circle cx="418.8" cy="391.8" r="1.6" fill-opacity="0.55"/>
<circle cx="414.2" cy="400.0" r="1.6" fill-opacity="0.55"/>
<circle cx="445.5" cy="399.4" r="1.6" fill-opacity="0.61"/>
<circle cx="432.2" cy="395.6" r="1.6" fill-opacity="0.61"/>
<circle cx="427.5" cy="403.8" r="1.6" fill-opacity="0.61"/>
<circle cx="458.8" cy="403.1" r="1.6" fill-opacity="0.61"/>
<circle cx="445.5" cy="399.4" r="1.6" fill-opacity="0.61"/>
<circle cx="440.8" cy="407.5" r="1.6" fill-opacity="0.61"/>
<circle cx="472.2" cy="406.9" r="1.6" fill-opacity="0.57"/>
<circle cx="458.8" cy="403.1" r="1.6" fill-opacity="0.57"/>
<circle cx="454.2" cy="411.3" r="1.6" fill-opacity="0.57"/>
<circle cx="485.5" cy="410.7" r="1.6" fill-opacity="0.48"/>
<circle cx="472.2" cy="406.9" r="1.6" fill-opacity="0.48"/>
<circle cx="467.5" cy="415.1" r="1.6" fill-opacity="0.48"/>
<circle cx="498.8" cy="414.5" r="1.6" fill-opacity="0.35"/>
<circle cx="485.5" cy="410.7" r="1.6" fill-opacity="0.35"/>
<circle cx="480.8" cy="418.8" r="1.6" fill-opacity="0.35"/>
<circle cx="477.2" cy="399.2" r="1.6" fill-opacity="0.30"/>
<circle cx="464.3" cy="395.6" r="1.6" fill-opacity="0.30"/>
<circle cx="459.9" cy="403.4" r="1.6" fill-opacity="0.30"/>
</g></g><polyline points="28.0,396.0 276.4,258.5 589.4,347.0" fill="none" stroke="url(#edgeG)" stroke-width="1.5" stroke-linejoin="round"/>
<ellipse cx="304" cy="283.3" rx="16.8" ry="14.1" fill="#1c5a5a" opacity="0.5"/>
<ellipse cx="304" cy="283.3" rx="16.3" ry="13.6" fill="url(#hG)"/>
<text x="303.8" y="288.8" class="hh">h</text>
<ellipse cx="355.4" cy="308.1" rx="16.8" ry="14.1" fill="#1c5a5a" opacity="0.5"/>
<ellipse cx="355.4" cy="308.1" rx="16.3" ry="13.6" fill="url(#hG)"/>
<text x="355.2" y="313.6" class="hh">h</text>
<ellipse cx="489.4" cy="345.6" rx="16.8" ry="14.1" fill="#1c5a5a" opacity="0.5"/>
<ellipse cx="489.4" cy="345.6" rx="16.3" ry="13.6" fill="url(#hG)"/>
<text x="489.2" y="351.1" class="hh">h</text>
<ellipse cx="242.3" cy="344.5" rx="16.8" ry="14.1" fill="#1c5a5a" opacity="0.5"/>
<ellipse cx="242.3" cy="344.5" rx="16.3" ry="13.6" fill="url(#hG)"/>
<text x="242.1" y="350.0" class="hh">h</text>
<ellipse cx="393" cy="379.7" rx="16.8" ry="14.1" fill="#1c5a5a" opacity="0.5"/>
<ellipse cx="393" cy="379.7" rx="16.3" ry="13.6" fill="url(#hG)"/>
<text x="392.8" y="385.2" class="hh">h</text>
<ellipse cx="273.2" cy="299.4" rx="18.9" ry="14.8" fill="#1c5a5a" opacity="0.5"/>
<ellipse cx="273.2" cy="299.4" rx="18.4" ry="14.3" fill="url(#eG)"/>
<text x="273.5" y="307.6" class="ee">e</text>
<ellipse cx="322" cy="331.5" rx="18.9" ry="14.8" fill="#1c5a5a" opacity="0.5"/>
<ellipse cx="322" cy="331.5" rx="18.4" ry="14.3" fill="url(#eG)"/>
<text x="322.3" y="339.7" class="ee">e</text>
<ellipse cx="450.7" cy="333.9" rx="18.9" ry="14.8" fill="#1c5a5a" opacity="0.5"/>
<ellipse cx="450.7" cy="333.9" rx="18.4" ry="14.3" fill="url(#eG)"/>
<text x="451.0" y="342.1" class="ee">e</text>
<ellipse cx="218.8" cy="364.9" rx="18.9" ry="14.8" fill="#1c5a5a" opacity="0.5"/>
<ellipse cx="218.8" cy="364.9" rx="18.4" ry="14.3" fill="url(#eG)"/>
<text x="219.1" y="373.1" class="ee">e</text>
<ellipse cx="358.5" cy="394.9" rx="18.9" ry="14.8" fill="#1c5a5a" opacity="0.5"/>
<ellipse cx="358.5" cy="394.9" rx="18.4" ry="14.3" fill="url(#eG)"/>
<text x="358.8" y="403.1" class="ee">e</text>
<text x="613.3" y="351" class="ly">n-ZnO</text>
<text x="613.3" y="406.3" class="ly">n-CdS</text>
<text x="613.3" y="475.6" class="ly">p-CZTS</text>
<text x="614" y="551.9" class="ly">p-MoS<tspan class="ly2" dy="6">2</tspan></text>
<text x="618.2" y="91.6" class="lab">(a)</text>
<rect x="965.6" y="23.6" width="747" height="603.2" fill="none" stroke="#000" stroke-width="5.7"/>
<text transform="translate(944,34.9) scale(1,1.087)" text-anchor="end" class="tk">3.5</text>
<text transform="translate(944,105.3) scale(1,1.087)" text-anchor="end" class="tk">2.8</text>
<text transform="translate(944,175.6) scale(1,1.087)" text-anchor="end" class="tk">2.1</text>
<text transform="translate(944,246.0) scale(1,1.087)" text-anchor="end" class="tk">1.4</text>
<text transform="translate(944,316.4) scale(1,1.087)" text-anchor="end" class="tk">0.7</text>
<text transform="translate(944,386.8) scale(1,1.087)" text-anchor="end" class="tk">0.0</text>
<text transform="translate(944,457.1) scale(1,1.087)" text-anchor="end" class="tk">-0.7</text>
<text transform="translate(944,527.5) scale(1,1.087)" text-anchor="end" class="tk">-1.4</text>
<text transform="translate(944,597.9) scale(1,1.087)" text-anchor="end" class="tk">-2.1</text>
<text transform="translate(965.5,676) scale(1,1.087)" text-anchor="middle" class="tk">0.0</text>
<text transform="translate(1069.2,676) scale(1,1.087)" text-anchor="middle" class="tk">0.5</text>
<text transform="translate(1172.9,676) scale(1,1.087)" text-anchor="middle" class="tk">1.0</text>
<text transform="translate(1276.6,676) scale(1,1.087)" text-anchor="middle" class="tk">1.5</text>
<text transform="translate(1380.3,676) scale(1,1.087)" text-anchor="middle" class="tk">2.0</text>
<text transform="translate(1484.0,676) scale(1,1.087)" text-anchor="middle" class="tk">2.5</text>
<text transform="translate(1587.7,676) scale(1,1.087)" text-anchor="middle" class="tk">3.0</text>
<text transform="translate(1691.4,676) scale(1,1.087)" text-anchor="middle" class="tk">3.5</text>
<path d="M953.5,23.6H966 M953.5,94.0H966 M953.5,164.3H966 M953.5,234.7H966 M953.5,305.1H966 M953.5,375.5H966 M953.5,445.8H966 M953.5,516.2H966 M953.5,586.6H966 M959.5,58.8H966 M959.5,129.2H966 M959.5,199.5H966 M959.5,269.9H966 M959.5,340.3H966 M959.5,410.6H966 M959.5,481.0H966 M959.5,551.4H966 M959.5,621.8H966 M965.5,626H965.5V638 M1069.2,626H1069.2V638 M1172.9,626H1172.9V638 M1276.6,626H1276.6V638 M1380.3,626H1380.3V638 M1484.0,626H1484.0V638 M1587.7,626H1587.7V638 M1691.4,626H1691.4V638 M1017.4,626V632.5 M1121.0,626V632.5 M1224.8,626V632.5 M1328.5,626V632.5 M1432.2,626V632.5 M1535.8,626V632.5 M1639.6,626V632.5" stroke="#000" stroke-width="5" fill="none"/>
<g clip-path="url(#plotClip)">
<path d="M965.50,235.80 L1030.00,215.80 L1063.30,205.00 L1066.50,203.20 L1068.60,201.20 L1068.60,233.20 L1072.00,230.30 L1076.00,228.90 L1085.00,228.40 L1101.87,228.39 L1124.59,228.38 L1151.68,228.37 L1181.62,228.36 L1212.93,228.35 L1244.09,228.33 L1273.62,228.32 L1300.00,228.30 L1324.85,228.28 L1350.27,228.26 L1375.55,228.24 L1399.94,228.22 L1422.71,228.19 L1443.13,228.17 L1460.47,228.14 L1474.00,228.10 L1482.88,228.07 L1487.44,228.05 L1488.72,228.03 L1487.75,228.00 L1485.56,227.96 L1483.19,227.90 L1481.66,227.82 L1482.00,227.70 L1483.76,227.55 L1485.75,227.37 L1487.93,227.17 L1490.25,226.95 L1492.66,226.71 L1495.12,226.45 L1497.59,226.18 L1500.00,225.90 L1502.40,225.59 L1504.86,225.25 L1507.35,224.88 L1509.88,224.50 L1512.41,224.12 L1514.95,223.75 L1517.49,223.41 L1520.00,223.10 L1522.47,222.82 L1524.88,222.56 L1527.28,222.31 L1529.69,222.08 L1532.13,221.87 L1534.65,221.66 L1537.26,221.48 L1540.00,221.30 L1542.82,221.14 L1545.66,220.99 L1548.57,220.86 L1551.56,220.74 L1554.67,220.63 L1557.93,220.54 L1561.36,220.46 L1565.00,220.40 L1568.87,220.35 L1572.95,220.33 L1577.22,220.32 L1581.62,220.32 L1586.14,220.33 L1590.73,220.35 L1595.37,220.37 L1600.00,220.40 L1604.81,220.43 L1609.89,220.46 L1615.12,220.50 L1620.38,220.55 L1625.52,220.60 L1630.42,220.66 L1634.96,220.73 L1639.00,220.80 L1642.51,220.87 L1645.59,220.95 L1648.33,221.02 L1650.81,221.11 L1653.14,221.20 L1655.38,221.31 L1657.64,221.44 L1660.00,221.60 L1662.46,221.78 L1664.92,222.00 L1667.37,222.23 L1669.75,222.47 L1672.04,222.73 L1674.20,222.99 L1676.20,223.25 L1678.00,223.50 L1679.59,223.75 L1680.99,224.00 L1682.23,224.26 L1683.34,224.52 L1684.35,224.77 L1685.28,225.03 L1686.15,225.27 L1687.00,225.50 L1687.81,225.73 L1688.55,225.97 L1689.21,226.20 L1689.81,226.43 L1690.34,226.63 L1690.80,226.82 L1691.18,226.98 L1691.50,227.10 L1691.50,238.30 L1712.50,238.30" fill="none" stroke="#ff0000" stroke-width="5" stroke-linejoin="round" stroke-linecap="round"/>
<path d="M965.50,375.50 L1000.00,365.20 L1024.00,358.80 L1024.76,358.65 L1025.77,358.43 L1026.97,358.17 L1028.31,357.89 L1029.74,357.61 L1031.20,357.34 L1032.63,357.09 L1034.00,356.90 L1035.40,356.75 L1036.94,356.62 L1038.54,356.52 L1040.12,356.43 L1041.64,356.36 L1043.00,356.30 L1044.14,356.25 L1045.00,356.20 L1483.80,355.50" fill="none" stroke="#000" stroke-width="5.2" stroke-linejoin="round" stroke-linecap="round" stroke-dasharray="9.7 17" stroke-dashoffset="-1.2"/>
<path d="M1483.80,355.50 L1483.80,419.30" fill="none" stroke="#000" stroke-width="5" stroke-linecap="round" stroke-dasharray="9.7 200" stroke-dashoffset="-10.5"/>
<path d="M1483.80,419.30 L1484.25,419.32 L1484.80,419.34 L1485.45,419.35 L1486.20,419.38 L1487.05,419.42 L1488.00,419.49 L1489.05,419.58 L1490.20,419.70 L1491.49,419.87 L1492.95,420.09 L1494.52,420.35 L1496.19,420.62 L1497.90,420.89 L1499.64,421.16 L1501.35,421.40 L1503.00,421.60 L1504.13,421.76 L1504.57,421.90 L1504.74,422.01 L1505.05,422.11 L1505.92,422.21 L1507.75,422.30 L1510.98,422.39 L1516.00,422.50 L1523.05,422.61 L1531.83,422.73 L1541.96,422.84 L1553.08,422.95 L1564.82,423.06 L1576.79,423.18 L1588.65,423.29 L1600.00,423.40 L1611.72,423.52 L1624.53,423.65 L1637.85,423.78 L1651.10,423.91 L1663.69,424.03 L1675.04,424.14 L1684.57,424.23 L1691.70,424.30 L1691.70,515.00 L1692.08,515.03 L1692.55,515.06 L1693.11,515.10 L1693.75,515.14 L1694.46,515.20 L1695.25,515.26 L1696.10,515.32 L1697.00,515.40 L1698.02,515.49 L1699.18,515.60 L1700.45,515.73 L1701.76,515.86 L1703.08,515.98 L1704.36,516.11 L1705.55,516.21 L1706.60,516.30 L1707.55,516.37 L1708.47,516.42 L1709.34,516.47 L1710.15,516.51 L1710.88,516.54 L1711.53,516.56 L1712.07,516.58 L1712.50,516.60" fill="none" stroke="#000" stroke-width="5.2" stroke-linejoin="round" stroke-linecap="round" stroke-dasharray="9.7 17" stroke-dashoffset="17.7"/>
<path d="M965.50,407.50 L1030.00,387.30 L1062.00,376.80 L1066.00,374.20 L1068.60,371.50 L1069.50,378.60 L1072.00,376.40 L1076.00,374.80 L1090.00,374.20 L1483.80,373.80 L1483.80,468.50 L1485.37,468.16 L1487.33,467.68 L1489.65,467.12 L1492.30,466.50 L1495.25,465.86 L1498.47,465.24 L1501.93,464.68 L1505.60,464.20 L1509.52,463.80 L1513.73,463.43 L1518.22,463.09 L1522.96,462.79 L1527.93,462.51 L1533.10,462.25 L1538.47,462.02 L1544.00,461.80 L1549.88,461.61 L1556.22,461.44 L1562.86,461.30 L1569.65,461.18 L1576.44,461.08 L1583.08,461.01 L1589.42,460.94 L1595.30,460.90 L1600.83,460.88 L1606.21,460.88 L1611.40,460.90 L1616.37,460.94 L1621.12,461.00 L1625.60,461.06 L1629.81,461.13 L1633.70,461.20 L1637.21,461.27 L1640.33,461.35 L1643.13,461.44 L1645.69,461.53 L1648.08,461.63 L1650.38,461.75 L1652.66,461.87 L1655.00,462.00 L1657.36,462.14 L1659.67,462.30 L1661.91,462.46 L1664.08,462.64 L1666.18,462.82 L1668.20,463.01 L1670.14,463.20 L1672.00,463.40 L1673.77,463.60 L1675.46,463.81 L1677.07,464.03 L1678.60,464.25 L1680.06,464.48 L1681.44,464.71 L1682.75,464.95 L1684.00,465.20 L1685.20,465.47 L1686.35,465.77 L1687.44,466.09 L1688.45,466.41 L1689.37,466.72 L1690.18,467.00 L1690.86,467.23 L1691.40,467.40 L1691.50,569.60 L1712.50,569.60" fill="none" stroke="#007f00" stroke-width="5" stroke-linejoin="round" stroke-linecap="round"/>
<path d="M965.50,269.20 L968.95,268.73 L972.40,268.13 L975.85,267.46 L979.30,266.74 L982.75,265.99 L986.20,265.20 L989.65,264.39 L993.10,263.55 L996.55,262.69 L1000.00,261.81 L1003.45,260.92 L1006.90,260.01 L1010.35,259.08 L1013.80,258.14 L1017.25,257.19 L1020.70,256.22 L1024.15,255.24 L1027.60,254.25 L1031.05,253.25 L1034.50,252.23 L1037.95,251.21 L1041.40,250.18 L1044.85,249.14 L1048.30,248.08 L1051.75,247.02 L1055.20,245.95 L1058.65,244.88 L1062.10,243.79 L1065.55,242.70 L1069.00,241.60 L1712.50,240.60" fill="none" stroke="#0000ff" stroke-width="5.2" stroke-linejoin="round" stroke-linecap="round" stroke-dasharray="9.7 17"/>
</g>
<text transform="translate(1206.4,741.2) scale(1,1.093)" class="ax">Thickness <tspan class="pr">(</tspan><tspan class="mu2">μ</tspan>m<tspan class="pr">)</tspan></text>
<text transform="translate(845,304.8) rotate(-90) scale(1,1.015)" text-anchor="middle" class="ax2">Energy (eV)</text>
<text x="1609.3" y="91.6" class="lab">(b)</text>
<rect x="1049" y="402.9" width="193.8" height="194.2" fill="#fff" stroke="#8c8c8c" stroke-width="1.6"/>
<path d="M1054,425.9H1122" stroke="#ff0000" stroke-width="5" stroke-linecap="round"/>
<text transform="translate(1131,436.5) scale(1,1.07)" class="lg">E<tspan font-size="27" dy="7.8">C</tspan></text>
<text transform="translate(1179.5,436.5) scale(1,1.07)" class="lg" letter-spacing="0.5">(eV)</text>
<path d="M1054,473.2H1122" stroke="#007f00" stroke-width="5" stroke-linecap="round"/>
<text transform="translate(1131,483.8) scale(1,1.07)" class="lg">E<tspan font-size="25.5" dy="7.3">V</tspan></text>
<text transform="translate(1179.5,483.8) scale(1,1.07)" class="lg" letter-spacing="0.5">(eV)</text>
<path d="M1054,521.4H1121" stroke="#0000ff" stroke-width="5.2" stroke-linecap="round" stroke-dasharray="9.7 17"/>
<text transform="translate(1131,532.0) scale(1,1.07)" class="lg">F<tspan font-size="33" dy="6.5">n</tspan></text>
<text transform="translate(1179.5,532.0) scale(1,1.07)" class="lg" letter-spacing="0.5">(eV)</text>
<path d="M1054,568.4H1121" stroke="#000" stroke-width="5.2" stroke-linecap="round" stroke-dasharray="9.7 17"/>
<text transform="translate(1131,579.0) scale(1,1.07)" class="lg">F<tspan font-size="25.5" dy="7.3">V</tspan></text>
<text transform="translate(1179.5,579.0) scale(1,1.07)" class="lg" letter-spacing="0.5">(eV)</text>
</svg></body></html>
